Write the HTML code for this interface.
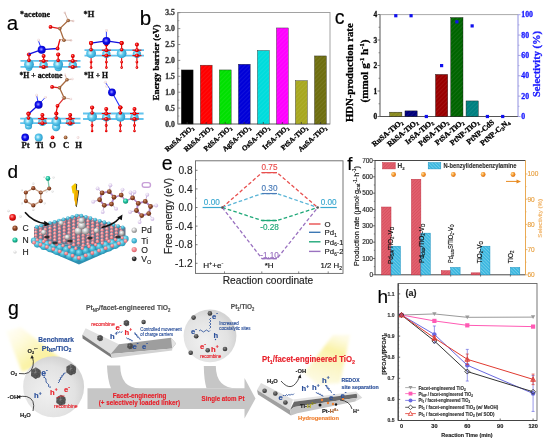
<!DOCTYPE html>
<html><head><meta charset="utf-8"><title>Figure</title>
<style>html,body{margin:0;padding:0;background:#fff;}svg{display:block;}</style></head>
<body><svg width="550" height="445" viewBox="0 0 550 445">
<defs><pattern id="hb" width="3" height="3" patternUnits="userSpaceOnUse" patternTransform="rotate(45)"><rect width="3" height="3" fill="none"/><line x1="0" y1="0" x2="0" y2="3" stroke="rgba(255,255,255,0.13)" stroke-width="1"/></pattern><clipPath id="clipE"><rect x="195" y="160" width="148" height="114"/></clipPath><pattern id="hr" width="2.2" height="2.2" patternUnits="userSpaceOnUse" patternTransform="rotate(45)"><rect width="2.2" height="2.2" fill="#e2606e"/><line x1="0" y1="0" x2="0" y2="2.2" stroke="#c84050" stroke-width="0.7"/></pattern><pattern id="hbl" width="2.4" height="2.4" patternUnits="userSpaceOnUse" patternTransform="rotate(-45)"><rect width="2.4" height="2.4" fill="#3cb8e0"/><line x1="0" y1="0" x2="0" y2="2.4" stroke="#a8e0f4" stroke-width="0.8"/></pattern><radialGradient id="og" cx="0.35" cy="0.35" r="0.7"><stop offset="0" stop-color="#ffe0a0"/><stop offset="0.5" stop-color="#f59a30"/><stop offset="1" stop-color="#d86a10"/></radialGradient><radialGradient id="gTi" cx="0.4" cy="0.45" r="0.6"><stop offset="0" stop-color="#e8fbff"/><stop offset="0.45" stop-color="#5cc8ec"/><stop offset="1" stop-color="#2a9ccc"/></radialGradient><radialGradient id="gO" cx="0.4" cy="0.4" r="0.6"><stop offset="0" stop-color="#ff9090"/><stop offset="0.5" stop-color="#f00000"/><stop offset="1" stop-color="#c00000"/></radialGradient><radialGradient id="gPt" cx="0.45" cy="0.45" r="0.6"><stop offset="0" stop-color="#a0a0ff"/><stop offset="0.45" stop-color="#1010f0"/><stop offset="1" stop-color="#0000b0"/></radialGradient><radialGradient id="gC" cx="0.4" cy="0.4" r="0.6"><stop offset="0" stop-color="#e0b090"/><stop offset="0.5" stop-color="#a86a40"/><stop offset="1" stop-color="#7a4a28"/></radialGradient><radialGradient id="gH" cx="0.4" cy="0.4" r="0.6"><stop offset="0" stop-color="#ffffff"/><stop offset="1" stop-color="#e8c8c8"/></radialGradient><radialGradient id="gPd" cx="0.4" cy="0.35" r="0.65"><stop offset="0" stop-color="#ffffff"/><stop offset="0.5" stop-color="#c8c8c8"/><stop offset="1" stop-color="#808080"/></radialGradient><radialGradient id="gTi2" cx="0.4" cy="0.35" r="0.65"><stop offset="0" stop-color="#a0e4f4"/><stop offset="0.5" stop-color="#4cbcd8"/><stop offset="1" stop-color="#2a98b8"/></radialGradient><radialGradient id="gO2" cx="0.4" cy="0.35" r="0.65"><stop offset="0" stop-color="#ffc8c8"/><stop offset="0.6" stop-color="#f08088"/><stop offset="1" stop-color="#d86068"/></radialGradient><radialGradient id="gN" cx="0.4" cy="0.35" r="0.65"><stop offset="0" stop-color="#a0ffe0"/><stop offset="0.5" stop-color="#20c0a0"/><stop offset="1" stop-color="#109070"/></radialGradient><radialGradient id="gC2" cx="0.4" cy="0.35" r="0.65"><stop offset="0" stop-color="#d09070"/><stop offset="0.5" stop-color="#904828"/><stop offset="1" stop-color="#602810"/></radialGradient><radialGradient id="gHp" cx="0.4" cy="0.35" r="0.65"><stop offset="0" stop-color="#ffffff"/><stop offset="1" stop-color="#c8b0e0"/></radialGradient><radialGradient id="gHw" cx="0.4" cy="0.35" r="0.65"><stop offset="0" stop-color="#ffffff"/><stop offset="1" stop-color="#c8c8c8"/></radialGradient><radialGradient id="gV" cx="0.4" cy="0.35" r="0.65"><stop offset="0" stop-color="#aaaaaa"/><stop offset="0.5" stop-color="#333333"/><stop offset="1" stop-color="#111111"/></radialGradient><radialGradient id="gOw" cx="0.4" cy="0.35" r="0.65"><stop offset="0" stop-color="#ffa0a0"/><stop offset="0.5" stop-color="#f01818"/><stop offset="1" stop-color="#b00000"/></radialGradient><radialGradient id="gSph" cx="0.4" cy="0.6" r="0.6"><stop offset="0" stop-color="#f0f0f0"/><stop offset="0.75" stop-color="#e2e2e2"/><stop offset="1" stop-color="#d4d4d4"/></radialGradient><linearGradient id="gBeam1" x1="0" y1="0" x2="1" y2="1"><stop offset="0" stop-color="#fffbe0" stop-opacity="0.2"/><stop offset="0.6" stop-color="#fbf3a8"/><stop offset="1" stop-color="#f8ee90"/></linearGradient><linearGradient id="gBeam2" x1="0.7" y1="0" x2="0.4" y2="1"><stop offset="0" stop-color="#fcf6c0" stop-opacity="0.4"/><stop offset="0.3" stop-color="#faf2a8"/><stop offset="1" stop-color="#fcf8d8" stop-opacity="0.7"/></linearGradient><radialGradient id="gNP" cx="0.4" cy="0.35" r="0.7"><stop offset="0" stop-color="#8a8a8a"/><stop offset="1" stop-color="#484848"/></radialGradient><radialGradient id="gDot" cx="0.4" cy="0.35" r="0.7"><stop offset="0" stop-color="#888"/><stop offset="1" stop-color="#222"/></radialGradient><filter id="bl2" x="-0.3" y="-0.3" width="1.6" height="1.6"><feGaussianBlur stdDeviation="2.2"/></filter><filter id="bl1" x="-0.3" y="-0.3" width="1.6" height="1.6"><feGaussianBlur stdDeviation="1.5"/></filter></defs>
<rect width="550" height="445" fill="#fff"/>
<text x="6.8" y="29.5" font-family="'Liberation Sans',sans-serif" font-size="20.5" font-weight="normal" fill="#000" text-anchor="start"  stroke="#000" stroke-width="0.15">a</text>
<text x="139.8" y="24.5" font-family="'Liberation Sans',sans-serif" font-size="20.5" font-weight="normal" fill="#000" text-anchor="start"  stroke="#000" stroke-width="0.15">b</text>
<text x="334.8" y="24" font-family="'Liberation Sans',sans-serif" font-size="19.5" font-weight="normal" fill="#000" text-anchor="start"  stroke="#000" stroke-width="0.15">c</text>
<text x="7.6" y="178" font-family="'Liberation Sans',sans-serif" font-size="19" font-weight="normal" fill="#000" text-anchor="start"  stroke="#000" stroke-width="0.15">d</text>
<text x="161.8" y="169.8" font-family="'Liberation Sans',sans-serif" font-size="19.5" font-weight="normal" fill="#000" text-anchor="start"  stroke="#000" stroke-width="0.15">e</text>
<text x="347.2" y="170.4" font-family="'Liberation Sans',sans-serif" font-size="18.5" font-weight="normal" fill="#000" text-anchor="start"  stroke="#000" stroke-width="0.15">f</text>
<text x="8" y="315.2" font-family="'Liberation Sans',sans-serif" font-size="19.5" font-weight="normal" fill="#000" text-anchor="start"  stroke="#000" stroke-width="0.15">g</text>
<text x="377.5" y="302.5" font-family="'Liberation Sans',sans-serif" font-size="19" font-weight="normal" fill="#000" text-anchor="start"  stroke="#000" stroke-width="0.15">h</text>
<rect x="177.8" y="12.5" width="152.2" height="111.5" fill="none" stroke="#999" stroke-width="0.9"/>
<line x1="177.8" y1="12.5" x2="177.8" y2="124" stroke="#888" stroke-width="1.2" />
<line x1="177.8" y1="124" x2="330" y2="124" stroke="#888" stroke-width="1.2" />
<line x1="177.8" y1="124" x2="180.3" y2="124" stroke="#777" stroke-width="0.8" />
<line x1="177.8" y1="116.05" x2="179.3" y2="116.05" stroke="#777" stroke-width="0.6" />
<text x="174.8" y="126.5" font-family="'Liberation Serif',serif" font-size="7.7" font-weight="bold" fill="#333" text-anchor="end"  stroke="#333" stroke-width="0.3">0.0</text>
<line x1="177.8" y1="108.1" x2="180.3" y2="108.1" stroke="#777" stroke-width="0.8" />
<line x1="177.8" y1="100.15" x2="179.3" y2="100.15" stroke="#777" stroke-width="0.6" />
<text x="174.8" y="110.6" font-family="'Liberation Serif',serif" font-size="7.7" font-weight="bold" fill="#333" text-anchor="end"  stroke="#333" stroke-width="0.3">0.5</text>
<line x1="177.8" y1="92.2" x2="180.3" y2="92.2" stroke="#777" stroke-width="0.8" />
<line x1="177.8" y1="84.25" x2="179.3" y2="84.25" stroke="#777" stroke-width="0.6" />
<text x="174.8" y="94.7" font-family="'Liberation Serif',serif" font-size="7.7" font-weight="bold" fill="#333" text-anchor="end"  stroke="#333" stroke-width="0.3">1.0</text>
<line x1="177.8" y1="76.3" x2="180.3" y2="76.3" stroke="#777" stroke-width="0.8" />
<line x1="177.8" y1="68.35" x2="179.3" y2="68.35" stroke="#777" stroke-width="0.6" />
<text x="174.8" y="78.8" font-family="'Liberation Serif',serif" font-size="7.7" font-weight="bold" fill="#333" text-anchor="end"  stroke="#333" stroke-width="0.3">1.5</text>
<line x1="177.8" y1="60.4" x2="180.3" y2="60.4" stroke="#777" stroke-width="0.8" />
<line x1="177.8" y1="52.45" x2="179.3" y2="52.45" stroke="#777" stroke-width="0.6" />
<text x="174.8" y="62.9" font-family="'Liberation Serif',serif" font-size="7.7" font-weight="bold" fill="#333" text-anchor="end"  stroke="#333" stroke-width="0.3">2.0</text>
<line x1="177.8" y1="44.5" x2="180.3" y2="44.5" stroke="#777" stroke-width="0.8" />
<line x1="177.8" y1="36.55" x2="179.3" y2="36.55" stroke="#777" stroke-width="0.6" />
<text x="174.8" y="47" font-family="'Liberation Serif',serif" font-size="7.7" font-weight="bold" fill="#333" text-anchor="end"  stroke="#333" stroke-width="0.3">2.5</text>
<line x1="177.8" y1="28.6" x2="180.3" y2="28.6" stroke="#777" stroke-width="0.8" />
<line x1="177.8" y1="20.65" x2="179.3" y2="20.65" stroke="#777" stroke-width="0.6" />
<text x="174.8" y="31.1" font-family="'Liberation Serif',serif" font-size="7.7" font-weight="bold" fill="#333" text-anchor="end"  stroke="#333" stroke-width="0.3">3.0</text>
<line x1="177.8" y1="12.7" x2="180.3" y2="12.7" stroke="#777" stroke-width="0.8" />
<text x="174.8" y="15.2" font-family="'Liberation Serif',serif" font-size="7.7" font-weight="bold" fill="#333" text-anchor="end"  stroke="#333" stroke-width="0.3">3.5</text>
<rect x="181.3" y="69.94" width="11.8" height="54.06" fill="#000000" stroke="#222" stroke-width="0.4"/>
<line x1="187.2" y1="124" x2="187.2" y2="122" stroke="#333" stroke-width="0.7" />
<text transform="translate(193.8,128.5) rotate(-42)" font-family="'Liberation Serif',serif" font-size="7.2" font-weight="bold" text-anchor="end" stroke="#000" stroke-width="0.3">RuSA-TiO<tspan font-size="4.5" dy="1.5">2</tspan></text>
<rect x="200.33" y="65.17" width="11.8" height="58.83" fill="#ff0000" stroke="#222" stroke-width="0.4"/>
<rect x="200.33" y="65.17" width="11.8" height="58.83" fill="url(#hb)" />
<line x1="206.23" y1="124" x2="206.23" y2="122" stroke="#333" stroke-width="0.7" />
<text transform="translate(212.83,128.5) rotate(-42)" font-family="'Liberation Serif',serif" font-size="7.2" font-weight="bold" text-anchor="end" stroke="#000" stroke-width="0.3">RhSA-TiO<tspan font-size="4.5" dy="1.5">2</tspan></text>
<rect x="219.36" y="69.94" width="11.8" height="54.06" fill="#00e000" stroke="#222" stroke-width="0.4"/>
<rect x="219.36" y="69.94" width="11.8" height="54.06" fill="url(#hb)" />
<line x1="225.26" y1="124" x2="225.26" y2="122" stroke="#333" stroke-width="0.7" />
<text transform="translate(231.86,128.5) rotate(-42)" font-family="'Liberation Serif',serif" font-size="7.2" font-weight="bold" text-anchor="end" stroke="#000" stroke-width="0.3">PdSA-TiO<tspan font-size="4.5" dy="1.5">2</tspan></text>
<rect x="238.39" y="64.22" width="11.8" height="59.78" fill="#0000d8" stroke="#222" stroke-width="0.4"/>
<rect x="238.39" y="64.22" width="11.8" height="59.78" fill="url(#hb)" />
<line x1="244.29" y1="124" x2="244.29" y2="122" stroke="#333" stroke-width="0.7" />
<text transform="translate(250.89,128.5) rotate(-42)" font-family="'Liberation Serif',serif" font-size="7.2" font-weight="bold" text-anchor="end" stroke="#000" stroke-width="0.3">AgSA-TiO<tspan font-size="4.5" dy="1.5">2</tspan></text>
<rect x="257.42" y="50.54" width="11.8" height="73.46" fill="#00dcdc" stroke="#222" stroke-width="0.4"/>
<rect x="257.42" y="50.54" width="11.8" height="73.46" fill="url(#hb)" />
<line x1="263.32" y1="124" x2="263.32" y2="122" stroke="#333" stroke-width="0.7" />
<text transform="translate(269.92,128.5) rotate(-42)" font-family="'Liberation Serif',serif" font-size="7.2" font-weight="bold" text-anchor="end" stroke="#000" stroke-width="0.3">OsSA-TiO<tspan font-size="4.5" dy="1.5">2</tspan></text>
<rect x="276.45" y="27.96" width="11.8" height="96.04" fill="#ff00ff" stroke="#222" stroke-width="0.4"/>
<rect x="276.45" y="27.96" width="11.8" height="96.04" fill="url(#hb)" />
<line x1="282.35" y1="124" x2="282.35" y2="122" stroke="#333" stroke-width="0.7" />
<text transform="translate(288.95,128.5) rotate(-42)" font-family="'Liberation Serif',serif" font-size="7.2" font-weight="bold" text-anchor="end" stroke="#000" stroke-width="0.3">IrSA-TiO<tspan font-size="4.5" dy="1.5">2</tspan></text>
<rect x="295.48" y="80.75" width="11.8" height="43.25" fill="#a8a820" stroke="#222" stroke-width="0.4"/>
<rect x="295.48" y="80.75" width="11.8" height="43.25" fill="url(#hb)" />
<line x1="301.38" y1="124" x2="301.38" y2="122" stroke="#333" stroke-width="0.7" />
<text transform="translate(307.98,128.5) rotate(-42)" font-family="'Liberation Serif',serif" font-size="7.2" font-weight="bold" text-anchor="end" stroke="#000" stroke-width="0.3">PtSA-TiO<tspan font-size="4.5" dy="1.5">2</tspan></text>
<rect x="314.51" y="55.95" width="11.8" height="68.05" fill="#6e6e10" stroke="#222" stroke-width="0.4"/>
<rect x="314.51" y="55.95" width="11.8" height="68.05" fill="url(#hb)" />
<line x1="320.41" y1="124" x2="320.41" y2="122" stroke="#333" stroke-width="0.7" />
<text transform="translate(327.01,128.5) rotate(-42)" font-family="'Liberation Serif',serif" font-size="7.2" font-weight="bold" text-anchor="end" stroke="#000" stroke-width="0.3">AuSA-TiO<tspan font-size="4.5" dy="1.5">2</tspan></text>
<text transform="translate(158.7,62.5) rotate(-90)" font-family="'Liberation Serif',serif" font-size="8.7" font-weight="bold" text-anchor="middle" textLength="76" lengthAdjust="spacingAndGlyphs" stroke="#000" stroke-width="0.3">Energy barrier (eV)</text>
<line x1="380" y1="14.6" x2="518" y2="14.6" stroke="#aaa" stroke-width="1" />
<line x1="380" y1="14.6" x2="380" y2="116.5" stroke="#555" stroke-width="1" />
<line x1="380" y1="116.5" x2="518" y2="116.5" stroke="#555" stroke-width="1" />
<line x1="518" y1="14.6" x2="518" y2="116.5" stroke="#9090e0" stroke-width="1" />
<line x1="377.5" y1="116.5" x2="380" y2="116.5" stroke="#555" stroke-width="0.8" />
<text x="377.3" y="119.1" font-family="'Liberation Serif',serif" font-size="7.4" font-weight="bold" fill="#111" text-anchor="end"  stroke="#111" stroke-width="0.3">0</text>
<line x1="378.5" y1="103.75" x2="380" y2="103.75" stroke="#555" stroke-width="0.6" />
<line x1="377.5" y1="91" x2="380" y2="91" stroke="#555" stroke-width="0.8" />
<text x="377.3" y="93.6" font-family="'Liberation Serif',serif" font-size="7.4" font-weight="bold" fill="#111" text-anchor="end"  stroke="#111" stroke-width="0.3">1</text>
<line x1="378.5" y1="78.25" x2="380" y2="78.25" stroke="#555" stroke-width="0.6" />
<line x1="377.5" y1="65.5" x2="380" y2="65.5" stroke="#555" stroke-width="0.8" />
<text x="377.3" y="68.1" font-family="'Liberation Serif',serif" font-size="7.4" font-weight="bold" fill="#111" text-anchor="end"  stroke="#111" stroke-width="0.3">2</text>
<line x1="378.5" y1="52.75" x2="380" y2="52.75" stroke="#555" stroke-width="0.6" />
<line x1="377.5" y1="40" x2="380" y2="40" stroke="#555" stroke-width="0.8" />
<text x="377.3" y="42.6" font-family="'Liberation Serif',serif" font-size="7.4" font-weight="bold" fill="#111" text-anchor="end"  stroke="#111" stroke-width="0.3">3</text>
<line x1="378.5" y1="27.25" x2="380" y2="27.25" stroke="#555" stroke-width="0.6" />
<line x1="377.5" y1="14.5" x2="380" y2="14.5" stroke="#555" stroke-width="0.8" />
<text x="377.3" y="17.1" font-family="'Liberation Serif',serif" font-size="7.4" font-weight="bold" fill="#111" text-anchor="end"  stroke="#111" stroke-width="0.3">4</text>
<line x1="518" y1="116.5" x2="520.5" y2="116.5" stroke="#9090e0" stroke-width="0.8" />
<text x="521.3" y="119.2" font-family="'Liberation Serif',serif" font-size="7.8" font-weight="bold" fill="#1a1aff" text-anchor="start"  stroke="#1a1aff" stroke-width="0.3">0</text>
<line x1="518" y1="106.32" x2="519.5" y2="106.32" stroke="#9090e0" stroke-width="0.6" />
<line x1="518" y1="96.14" x2="520.5" y2="96.14" stroke="#9090e0" stroke-width="0.8" />
<text x="521.3" y="98.84" font-family="'Liberation Serif',serif" font-size="7.8" font-weight="bold" fill="#1a1aff" text-anchor="start"  stroke="#1a1aff" stroke-width="0.3">20</text>
<line x1="518" y1="85.96" x2="519.5" y2="85.96" stroke="#9090e0" stroke-width="0.6" />
<line x1="518" y1="75.78" x2="520.5" y2="75.78" stroke="#9090e0" stroke-width="0.8" />
<text x="521.3" y="78.48" font-family="'Liberation Serif',serif" font-size="7.8" font-weight="bold" fill="#1a1aff" text-anchor="start"  stroke="#1a1aff" stroke-width="0.3">40</text>
<line x1="518" y1="65.6" x2="519.5" y2="65.6" stroke="#9090e0" stroke-width="0.6" />
<line x1="518" y1="55.42" x2="520.5" y2="55.42" stroke="#9090e0" stroke-width="0.8" />
<text x="521.3" y="58.12" font-family="'Liberation Serif',serif" font-size="7.8" font-weight="bold" fill="#1a1aff" text-anchor="start"  stroke="#1a1aff" stroke-width="0.3">60</text>
<line x1="518" y1="45.24" x2="519.5" y2="45.24" stroke="#9090e0" stroke-width="0.6" />
<line x1="518" y1="35.06" x2="520.5" y2="35.06" stroke="#9090e0" stroke-width="0.8" />
<text x="521.3" y="37.76" font-family="'Liberation Serif',serif" font-size="7.8" font-weight="bold" fill="#1a1aff" text-anchor="start"  stroke="#1a1aff" stroke-width="0.3">80</text>
<line x1="518" y1="24.88" x2="519.5" y2="24.88" stroke="#9090e0" stroke-width="0.6" />
<line x1="518" y1="14.7" x2="520.5" y2="14.7" stroke="#9090e0" stroke-width="0.8" />
<text x="521.3" y="17.4" font-family="'Liberation Serif',serif" font-size="7.8" font-weight="bold" fill="#1a1aff" text-anchor="start"  stroke="#1a1aff" stroke-width="0.3">100</text>
<rect x="389.7" y="112.17" width="12.2" height="4.33" fill="#8b8b1e" stroke="#111" stroke-width="0.4"/>
<rect x="389.7" y="112.17" width="12.2" height="4.33" fill="url(#hb)" />
<rect x="394.2" y="14.12" width="3.2" height="3.2" fill="#1010ee" />
<text transform="translate(403.2,123) rotate(-40)" font-family="'Liberation Serif',serif" font-size="7.6" font-weight="bold" text-anchor="end" stroke="#000" stroke-width="0.3">RuSA-TiO<tspan font-size="5" dy="1.5">2</tspan></text>
<rect x="404.97" y="110.89" width="12.2" height="5.61" fill="#00007a" stroke="#111" stroke-width="0.4"/>
<rect x="404.97" y="110.89" width="12.2" height="5.61" fill="url(#hb)" />
<rect x="409.47" y="14.12" width="3.2" height="3.2" fill="#1010ee" />
<text transform="translate(418.47,123) rotate(-40)" font-family="'Liberation Serif',serif" font-size="7.6" font-weight="bold" text-anchor="end" stroke="#000" stroke-width="0.3">RhSA-TiO<tspan font-size="5" dy="1.5">2</tspan></text>
<rect x="424.74" y="114.9" width="3.2" height="3.2" fill="#1010ee" />
<text transform="translate(433.74,123) rotate(-40)" font-family="'Liberation Serif',serif" font-size="7.6" font-weight="bold" text-anchor="end" stroke="#000" stroke-width="0.3">IrSA-TiO<tspan font-size="5" dy="1.5">2</tspan></text>
<rect x="435.51" y="74.43" width="12.2" height="42.07" fill="#9a0000" stroke="#111" stroke-width="0.4"/>
<rect x="435.51" y="74.43" width="12.2" height="42.07" fill="url(#hb)" />
<rect x="440.01" y="64" width="3.2" height="3.2" fill="#1010ee" />
<text transform="translate(449.01,123) rotate(-40)" font-family="'Liberation Serif',serif" font-size="7.6" font-weight="bold" text-anchor="end" stroke="#000" stroke-width="0.3">PdSA-TiO<tspan font-size="5" dy="1.5">2</tspan></text>
<rect x="450.78" y="17.56" width="12.2" height="98.94" fill="#006400" stroke="#111" stroke-width="0.4"/>
<rect x="450.78" y="17.56" width="12.2" height="98.94" fill="url(#hb)" />
<rect x="455.28" y="20.23" width="3.2" height="3.2" fill="#1010ee" />
<text transform="translate(464.28,123) rotate(-40)" font-family="'Liberation Serif',serif" font-size="7.6" font-weight="bold" text-anchor="end" stroke="#000" stroke-width="0.3">PtSA-TiO<tspan font-size="5" dy="1.5">2</tspan></text>
<rect x="466.05" y="100.94" width="12.2" height="15.56" fill="#008080" stroke="#111" stroke-width="0.4"/>
<rect x="466.05" y="100.94" width="12.2" height="15.56" fill="url(#hb)" />
<rect x="470.55" y="24.3" width="3.2" height="3.2" fill="#1010ee" />
<text transform="translate(479.55,123) rotate(-40)" font-family="'Liberation Serif',serif" font-size="7.6" font-weight="bold" text-anchor="end" stroke="#000" stroke-width="0.3">PtNP-TiO<tspan font-size="5" dy="1.5">2</tspan></text>
<rect x="485.82" y="114.9" width="3.2" height="3.2" fill="#1010ee" />
<text transform="translate(494.82,123) rotate(-40)" font-family="'Liberation Serif',serif" font-size="7.6" font-weight="bold" text-anchor="end" stroke="#000" stroke-width="0.3">PtNP-CdS</text>
<rect x="501.09" y="114.9" width="3.2" height="3.2" fill="#1010ee" />
<text transform="translate(510.09,123) rotate(-40)" font-family="'Liberation Serif',serif" font-size="7.6" font-weight="bold" text-anchor="end" stroke="#000" stroke-width="0.3">PtNP-C<tspan font-size="5" dy="1.5">3</tspan><tspan dy="-1.5">N</tspan><tspan font-size="5" dy="1.5">4</tspan></text>
<text transform="translate(353,72.7) rotate(-90)" font-family="'Liberation Serif',serif" font-size="10.7" font-weight="bold" text-anchor="middle" textLength="98.7" lengthAdjust="spacingAndGlyphs" stroke="#000" stroke-width="0.3">HDN-production rate</text>
<text transform="translate(368.2,71) rotate(-90)" font-family="'Liberation Serif',serif" font-size="11" font-weight="bold" text-anchor="middle" textLength="63" lengthAdjust="spacingAndGlyphs" stroke="#000" stroke-width="0.3">(mmol g<tspan font-size="6.5" dy="-4">-1</tspan><tspan dy="4"> h</tspan><tspan font-size="6.5" dy="-4">-1</tspan><tspan dy="4">)</tspan></text>
<text transform="translate(539.8,64) rotate(-90)" font-family="'Liberation Serif',serif" font-size="11.4" font-weight="bold" fill="#1a1aff" text-anchor="middle" textLength="66" lengthAdjust="spacingAndGlyphs" stroke="#1a1aff" stroke-width="0.3">Selectivity (%)</text>
<rect x="195.5" y="160.8" width="147.5" height="112.59999999999997" fill="none" stroke="#666" stroke-width="0.9"/>
<line x1="195.5" y1="170.3" x2="197.5" y2="170.3" stroke="#555" stroke-width="0.8" />
<text x="192.6" y="173.9" font-family="'Liberation Sans',sans-serif" font-size="10.2" font-weight="normal" fill="#222" text-anchor="end"  stroke="#222" stroke-width="0.15">0.8</text>
<line x1="195.5" y1="188.9" x2="197.5" y2="188.9" stroke="#555" stroke-width="0.8" />
<text x="192.6" y="192.5" font-family="'Liberation Sans',sans-serif" font-size="10.2" font-weight="normal" fill="#222" text-anchor="end"  stroke="#222" stroke-width="0.15">0.4</text>
<line x1="195.5" y1="207.5" x2="197.5" y2="207.5" stroke="#555" stroke-width="0.8" />
<text x="192.6" y="211.1" font-family="'Liberation Sans',sans-serif" font-size="10.2" font-weight="normal" fill="#222" text-anchor="end"  stroke="#222" stroke-width="0.15">0.0</text>
<line x1="195.5" y1="226.1" x2="197.5" y2="226.1" stroke="#555" stroke-width="0.8" />
<text x="192.6" y="229.7" font-family="'Liberation Sans',sans-serif" font-size="10.2" font-weight="normal" fill="#222" text-anchor="end"  stroke="#222" stroke-width="0.15">-0.4</text>
<line x1="195.5" y1="244.7" x2="197.5" y2="244.7" stroke="#555" stroke-width="0.8" />
<text x="192.6" y="248.3" font-family="'Liberation Sans',sans-serif" font-size="10.2" font-weight="normal" fill="#222" text-anchor="end"  stroke="#222" stroke-width="0.15">-0.8</text>
<line x1="195.5" y1="263.3" x2="197.5" y2="263.3" stroke="#555" stroke-width="0.8" />
<text x="192.6" y="266.9" font-family="'Liberation Sans',sans-serif" font-size="10.2" font-weight="normal" fill="#222" text-anchor="end"  stroke="#222" stroke-width="0.15">-1.2</text>
<line x1="195.5" y1="179.6" x2="196.7" y2="179.6" stroke="#555" stroke-width="0.6" />
<line x1="195.5" y1="198.2" x2="196.7" y2="198.2" stroke="#555" stroke-width="0.6" />
<line x1="195.5" y1="216.8" x2="196.7" y2="216.8" stroke="#555" stroke-width="0.6" />
<line x1="195.5" y1="235.4" x2="196.7" y2="235.4" stroke="#555" stroke-width="0.6" />
<line x1="195.5" y1="254" x2="196.7" y2="254" stroke="#555" stroke-width="0.6" />
<line x1="224.5" y1="273.4" x2="224.5" y2="271.4" stroke="#555" stroke-width="0.7" />
<line x1="261.8" y1="273.4" x2="261.8" y2="271.4" stroke="#555" stroke-width="0.7" />
<line x1="298.7" y1="273.4" x2="298.7" y2="271.4" stroke="#555" stroke-width="0.7" />
<line x1="328.2" y1="273.4" x2="328.2" y2="271.4" stroke="#555" stroke-width="0.7" />
<text transform="translate(172.4,216) rotate(-90)" font-family="'Liberation Sans',sans-serif" font-size="10" fill="#222" text-anchor="middle" textLength="76" lengthAdjust="spacingAndGlyphs" stroke="#222" stroke-width="0.15">Free energy (eV)</text>
<text x="268" y="284" font-family="'Liberation Sans',sans-serif" font-size="10.4" font-weight="normal" fill="#222" text-anchor="middle" textLength="90.5" lengthAdjust="spacingAndGlyphs" stroke="#222" stroke-width="0.15">Reaction coordinate</text>
<polyline points="222.3,207.5 262,172.62 277,172.62 317.7,207.5" fill="none" stroke="#e8504f" stroke-width="1.3" stroke-dasharray="3.6,2.2"/>
<line x1="262" y1="172.62" x2="277" y2="172.62" stroke="#e8504f" stroke-width="1.2" />
<text x="269.5" y="170.43" font-family="'Liberation Sans',sans-serif" font-size="8.2" font-weight="normal" fill="#e8504f" text-anchor="middle"  stroke="#e8504f" stroke-width="0.15">0.75</text>
<polyline points="222.3,207.5 262,193.55 277,193.55 317.7,207.5" fill="none" stroke="#5ab4d6" stroke-width="1.3" stroke-dasharray="3.6,2.2"/>
<line x1="262" y1="193.55" x2="277" y2="193.55" stroke="#4a7cb8" stroke-width="1.2" />
<text x="269.5" y="191.35" font-family="'Liberation Sans',sans-serif" font-size="8.2" font-weight="normal" fill="#4a7cb8" text-anchor="middle"  stroke="#4a7cb8" stroke-width="0.15">0.30</text>
<polyline points="222.3,207.5 262,220.52 277,220.52 317.7,207.5" fill="none" stroke="#1fa878" stroke-width="1.3" stroke-dasharray="3.6,2.2"/>
<line x1="262" y1="220.52" x2="277" y2="220.52" stroke="#1fa878" stroke-width="1.2" />
<text x="269.5" y="229.52" font-family="'Liberation Sans',sans-serif" font-size="8.2" font-weight="normal" fill="#1fa878" text-anchor="middle"  stroke="#1fa878" stroke-width="0.15">-0.28</text>
<polyline points="222.3,207.5 262,258.65 277,258.65 317.7,207.5" fill="none" stroke="#9a72c0" stroke-width="1.3" stroke-dasharray="3.6,2.2"/>
<line x1="262" y1="258.65" x2="277" y2="258.65" stroke="#9a72c0" stroke-width="1.2" />
<text x="269.5" y="257.85" font-family="'Liberation Sans',sans-serif" font-size="8.2" font-weight="normal" fill="#9a72c0" text-anchor="middle"  stroke="#9a72c0" stroke-width="0.15">-1.10</text>
<line x1="202.6" y1="207.5" x2="221" y2="207.5" stroke="#3aa8d0" stroke-width="1.2" />
<text x="211.8" y="205.3" font-family="'Liberation Sans',sans-serif" font-size="8.2" font-weight="normal" fill="#3aa8d0" text-anchor="middle"  stroke="#3aa8d0" stroke-width="0.15">0.00</text>
<line x1="320.4" y1="207.5" x2="336.8" y2="207.5" stroke="#3aa8d0" stroke-width="1.2" />
<text x="328.6" y="205.3" font-family="'Liberation Sans',sans-serif" font-size="8.2" font-weight="normal" fill="#3aa8d0" text-anchor="middle"  stroke="#3aa8d0" stroke-width="0.15">0.00</text>
<circle cx="222.3" cy="207.5" r="1.3" fill="#555" />
<circle cx="317.7" cy="207.5" r="1.3" fill="#555" />
<g clip-path="url(#clipE)">
<line x1="309" y1="224" x2="320.5" y2="224" stroke="#e8504f" stroke-width="1.4" />
<text x="324.6" y="226.8" font-family="'Liberation Sans',sans-serif" font-size="7.8" font-weight="normal" fill="#222" text-anchor="start"  stroke="#222" stroke-width="0.15">O</text>
<line x1="309" y1="232.3" x2="320.5" y2="232.3" stroke="#3c78b4" stroke-width="1.4" />
<text x="324.6" y="235.1" font-family="'Liberation Sans',sans-serif" font-size="7.8" fill="#222" stroke="#222" stroke-width="0.15">Pd<tspan font-size="4.8" dy="1.5">1</tspan></text>
<line x1="309" y1="241.8" x2="320.5" y2="241.8" stroke="#1fa878" stroke-width="1.4" />
<text x="324.6" y="244.6" font-family="'Liberation Sans',sans-serif" font-size="7.8" fill="#222" stroke="#222" stroke-width="0.15">Pd<tspan font-size="4.8" dy="1.5">6</tspan><tspan dy="-1.5" font-size="7.5">-1</tspan></text>
<line x1="309" y1="251.4" x2="320.5" y2="251.4" stroke="#9a72c0" stroke-width="1.4" />
<text x="324.6" y="254.2" font-family="'Liberation Sans',sans-serif" font-size="7.8" fill="#222" stroke="#222" stroke-width="0.15">Pd<tspan font-size="4.8" dy="1.5">6</tspan><tspan dy="-1.5" font-size="7.5">-2</tspan></text>
</g>
<text x="203.2" y="268.3" font-family="'Liberation Sans',sans-serif" font-size="8.1" fill="#111" stroke="#111" stroke-width="0.15">H<tspan font-size="5.5" dy="-3">+</tspan><tspan dy="3">+e</tspan><tspan font-size="5.5" dy="-3">-</tspan></text>
<text x="269.2" y="268.3" font-family="'Liberation Sans',sans-serif" font-size="8.1" font-weight="normal" fill="#111" text-anchor="middle"  stroke="#111" stroke-width="0.15">*H</text>
<text x="320.5" y="268.3" font-family="'Liberation Sans',sans-serif" font-size="7.8" fill="#111" stroke="#111" stroke-width="0.15">1/2 H<tspan font-size="5" dy="1.5">2</tspan></text>
<line x1="375" y1="160.5" x2="525.5" y2="160.5" stroke="#333" stroke-width="0.9" />
<line x1="375" y1="160.5" x2="375" y2="274.8" stroke="#333" stroke-width="0.9" />
<line x1="375" y1="274.8" x2="525.5" y2="274.8" stroke="#333" stroke-width="0.9" />
<line x1="525.5" y1="160.5" x2="525.5" y2="274.8" stroke="#e8a040" stroke-width="0.9" />
<line x1="373" y1="274.8" x2="375" y2="274.8" stroke="#333" stroke-width="0.7" />
<text x="373" y="277.1" font-family="'Liberation Sans',sans-serif" font-size="6.5" font-weight="normal" fill="#222" text-anchor="end"  stroke="#222" stroke-width="0.15">0</text>
<line x1="373.8" y1="266.63" x2="375" y2="266.63" stroke="#333" stroke-width="0.5" />
<line x1="373" y1="258.47" x2="375" y2="258.47" stroke="#333" stroke-width="0.7" />
<text x="373" y="260.77" font-family="'Liberation Sans',sans-serif" font-size="6.5" font-weight="normal" fill="#222" text-anchor="end"  stroke="#222" stroke-width="0.15">100</text>
<line x1="373.8" y1="250.31" x2="375" y2="250.31" stroke="#333" stroke-width="0.5" />
<line x1="373" y1="242.14" x2="375" y2="242.14" stroke="#333" stroke-width="0.7" />
<text x="373" y="244.44" font-family="'Liberation Sans',sans-serif" font-size="6.5" font-weight="normal" fill="#222" text-anchor="end"  stroke="#222" stroke-width="0.15">200</text>
<line x1="373.8" y1="233.98" x2="375" y2="233.98" stroke="#333" stroke-width="0.5" />
<line x1="373" y1="225.81" x2="375" y2="225.81" stroke="#333" stroke-width="0.7" />
<text x="373" y="228.11" font-family="'Liberation Sans',sans-serif" font-size="6.5" font-weight="normal" fill="#222" text-anchor="end"  stroke="#222" stroke-width="0.15">300</text>
<line x1="373.8" y1="217.65" x2="375" y2="217.65" stroke="#333" stroke-width="0.5" />
<line x1="373" y1="209.48" x2="375" y2="209.48" stroke="#333" stroke-width="0.7" />
<text x="373" y="211.78" font-family="'Liberation Sans',sans-serif" font-size="6.5" font-weight="normal" fill="#222" text-anchor="end"  stroke="#222" stroke-width="0.15">400</text>
<line x1="373.8" y1="201.31" x2="375" y2="201.31" stroke="#333" stroke-width="0.5" />
<line x1="373" y1="193.15" x2="375" y2="193.15" stroke="#333" stroke-width="0.7" />
<text x="373" y="195.45" font-family="'Liberation Sans',sans-serif" font-size="6.5" font-weight="normal" fill="#222" text-anchor="end"  stroke="#222" stroke-width="0.15">500</text>
<line x1="373.8" y1="184.99" x2="375" y2="184.99" stroke="#333" stroke-width="0.5" />
<line x1="373" y1="176.82" x2="375" y2="176.82" stroke="#333" stroke-width="0.7" />
<text x="373" y="179.12" font-family="'Liberation Sans',sans-serif" font-size="6.5" font-weight="normal" fill="#222" text-anchor="end"  stroke="#222" stroke-width="0.15">600</text>
<line x1="373.8" y1="168.66" x2="375" y2="168.66" stroke="#333" stroke-width="0.5" />
<line x1="373" y1="160.49" x2="375" y2="160.49" stroke="#333" stroke-width="0.7" />
<text x="373" y="162.79" font-family="'Liberation Sans',sans-serif" font-size="6.5" font-weight="normal" fill="#222" text-anchor="end"  stroke="#222" stroke-width="0.15">700</text>
<line x1="525.5" y1="274.8" x2="527.5" y2="274.8" stroke="#e8a040" stroke-width="0.7" />
<text x="527.5" y="277.1" font-family="'Liberation Sans',sans-serif" font-size="6.5" font-weight="normal" fill="#e8a040" text-anchor="start"  stroke="#e8a040" stroke-width="0.15">60</text>
<line x1="525.5" y1="262.2" x2="526.7" y2="262.2" stroke="#e8a040" stroke-width="0.5" />
<line x1="525.5" y1="249.6" x2="527.5" y2="249.6" stroke="#e8a040" stroke-width="0.7" />
<text x="527.5" y="251.9" font-family="'Liberation Sans',sans-serif" font-size="6.5" font-weight="normal" fill="#e8a040" text-anchor="start"  stroke="#e8a040" stroke-width="0.15">70</text>
<line x1="525.5" y1="237" x2="526.7" y2="237" stroke="#e8a040" stroke-width="0.5" />
<line x1="525.5" y1="224.4" x2="527.5" y2="224.4" stroke="#e8a040" stroke-width="0.7" />
<text x="527.5" y="226.7" font-family="'Liberation Sans',sans-serif" font-size="6.5" font-weight="normal" fill="#e8a040" text-anchor="start"  stroke="#e8a040" stroke-width="0.15">80</text>
<line x1="525.5" y1="211.8" x2="526.7" y2="211.8" stroke="#e8a040" stroke-width="0.5" />
<line x1="525.5" y1="199.2" x2="527.5" y2="199.2" stroke="#e8a040" stroke-width="0.7" />
<text x="527.5" y="201.5" font-family="'Liberation Sans',sans-serif" font-size="6.5" font-weight="normal" fill="#e8a040" text-anchor="start"  stroke="#e8a040" stroke-width="0.15">90</text>
<line x1="525.5" y1="186.6" x2="526.7" y2="186.6" stroke="#e8a040" stroke-width="0.5" />
<line x1="525.5" y1="174" x2="527.5" y2="174" stroke="#e8a040" stroke-width="0.7" />
<text x="527.5" y="176.3" font-family="'Liberation Sans',sans-serif" font-size="6.5" font-weight="normal" fill="#e8a040" text-anchor="start"  stroke="#e8a040" stroke-width="0.15">100</text>
<rect x="381.6" y="207.03" width="9.4" height="67.77" fill="url(#hr)" stroke="#c03040" stroke-width="0.5"/>
<rect x="391" y="246.22" width="9.4" height="28.58" fill="url(#hbl)" stroke="#1890c0" stroke-width="0.5"/>
<line x1="391" y1="274.8" x2="391" y2="276.6" stroke="#333" stroke-width="0.6" />
<circle cx="393.6" cy="174.5" r="2.4" fill="url(#og)"/>
<rect x="411.45" y="179.27" width="9.4" height="95.53" fill="url(#hr)" stroke="#c03040" stroke-width="0.5"/>
<rect x="420.85" y="233.16" width="9.4" height="41.64" fill="url(#hbl)" stroke="#1890c0" stroke-width="0.5"/>
<line x1="420.85" y1="274.8" x2="420.85" y2="276.6" stroke="#333" stroke-width="0.6" />
<circle cx="423.45" cy="174.5" r="2.4" fill="url(#og)"/>
<rect x="441.3" y="270.72" width="9.4" height="4.08" fill="url(#hr)" stroke="#c03040" stroke-width="0.5"/>
<rect x="450.7" y="267.45" width="9.4" height="7.35" fill="url(#hbl)" stroke="#1890c0" stroke-width="0.5"/>
<line x1="450.7" y1="274.8" x2="450.7" y2="276.6" stroke="#333" stroke-width="0.6" />
<circle cx="453.3" cy="174.5" r="2.4" fill="url(#og)"/>
<rect x="471.15" y="272.84" width="9.4" height="1.96" fill="url(#hr)" stroke="#c03040" stroke-width="0.5"/>
<rect x="480.55" y="246.22" width="9.4" height="28.58" fill="url(#hbl)" stroke="#1890c0" stroke-width="0.5"/>
<line x1="480.55" y1="274.8" x2="480.55" y2="276.6" stroke="#333" stroke-width="0.6" />
<circle cx="483.15" cy="174.5" r="2.4" fill="url(#og)"/>
<rect x="510.4" y="267.45" width="9.4" height="7.35" fill="url(#hbl)" stroke="#1890c0" stroke-width="0.5"/>
<line x1="510.4" y1="274.8" x2="510.4" y2="276.6" stroke="#333" stroke-width="0.6" />
<circle cx="513" cy="174.5" r="2.4" fill="url(#og)"/>
<text transform="translate(392.5,264) rotate(-90)" font-family="'Liberation Sans',sans-serif" font-size="6.8" fill="#111" textLength="37" lengthAdjust="spacingAndGlyphs" stroke="#111" stroke-width="0.15">Pd<tspan font-size="4.5" dy="1.2">SA</tspan><tspan dy="-1.2">/TiO</tspan><tspan font-size="4.5" dy="1.2">2</tspan><tspan dy="-1.2">-V</tspan><tspan font-size="4.5" dy="1.2">O</tspan></text>
<text transform="translate(423.6,263) rotate(-90)" font-family="'Liberation Sans',sans-serif" font-size="6.8" fill="#111" textLength="39.4" lengthAdjust="spacingAndGlyphs" stroke="#111" stroke-width="0.15">Pd<tspan font-size="4.5" dy="1.2">clus</tspan><tspan dy="-1.2">/TiO</tspan><tspan font-size="4.5" dy="1.2">2</tspan><tspan dy="-1.2">-V</tspan><tspan font-size="4.5" dy="1.2">O</tspan></text>
<text transform="translate(453,263) rotate(-90)" font-family="'Liberation Sans',sans-serif" font-size="6.8" fill="#111" textLength="38.6" lengthAdjust="spacingAndGlyphs" stroke="#111" stroke-width="0.15">Pd<tspan font-size="4.5" dy="1.2">surs</tspan><tspan dy="-1.2">S/TiO</tspan><tspan font-size="4.5" dy="1.2">2</tspan><tspan dy="-1.2">-V</tspan><tspan font-size="4.5" dy="1.2">O</tspan></text>
<text transform="translate(481.8,263.2) rotate(-90)" font-family="'Liberation Sans',sans-serif" font-size="6.8" fill="#111" textLength="21.9" lengthAdjust="spacingAndGlyphs" stroke="#111" stroke-width="0.15">TiO<tspan font-size="4.5" dy="1.2">2</tspan><tspan dy="-1.2">-V</tspan><tspan font-size="4.5" dy="1.2">O</tspan></text>
<text transform="translate(512.6,263.2) rotate(-90)" font-family="'Liberation Sans',sans-serif" font-size="6.8" fill="#111" textLength="12.6" lengthAdjust="spacingAndGlyphs" stroke="#111" stroke-width="0.15">TiO<tspan font-size="4.5" dy="1.2">2</tspan></text>
<rect x="382.6" y="162.6" width="12.6" height="6.3" fill="url(#hr)" stroke="#c03040" stroke-width="0.5"/>
<text x="397.5" y="168.3" font-family="'Liberation Sans',sans-serif" font-size="6.5" font-weight="bold" fill="#333" stroke="#333" stroke-width="0.15">H<tspan font-size="4.3" dy="1.2">2</tspan></text>
<rect x="428.2" y="162.6" width="12.6" height="6.3" fill="url(#hbl)" stroke="#1890c0" stroke-width="0.5"/>
<text x="443.5" y="168.3" font-family="'Liberation Sans',sans-serif" font-size="6.5" font-weight="bold" fill="#333" text-anchor="start" textLength="73" lengthAdjust="spacingAndGlyphs" stroke="#333" stroke-width="0.15">N-benzylidenebenzylamine</text>
<line x1="506" y1="181.4" x2="518" y2="181.4" stroke="#e88a20" stroke-width="1" />
<polygon points="521,181.4 516.5,179.4 516.5,183.4" fill="#e88a20"/>
<text transform="translate(359.2,266) rotate(-90)" font-family="'Liberation Sans',sans-serif" font-size="7.2" fill="#111" text-anchor="start" textLength="100" lengthAdjust="spacingAndGlyphs" stroke="#111" stroke-width="0.15">Production rate  (μmol·g<tspan font-size="4.8" dy="1.2">cat</tspan><tspan font-size="4.8" dy="-3.5">-1</tspan><tspan dy="2.3">·h</tspan><tspan font-size="4.8" dy="-3">-1</tspan><tspan dy="3">)</tspan></text>
<text transform="translate(541.5,218.3) rotate(-90)" font-family="'Liberation Sans',sans-serif" font-size="5.8" fill="#f0b060" text-anchor="middle" textLength="38.7" lengthAdjust="spacingAndGlyphs" stroke="#f0b060" stroke-width="0.15">Selectivity (%)</text>
<rect x="398.2" y="283.5" width="138.8" height="137.0" fill="none" stroke="#666" stroke-width="0.9"/>
<line x1="398.2" y1="283.5" x2="398.2" y2="420.5" stroke="#444" stroke-width="1.2" />
<line x1="398.2" y1="420.5" x2="537" y2="420.5" stroke="#444" stroke-width="1.2" />
<line x1="398.2" y1="420.5" x2="400.2" y2="420.5" stroke="#444" stroke-width="0.8" />
<text x="394.5" y="422.3" font-family="'Liberation Sans',sans-serif" font-size="5" font-weight="bold" fill="#333" text-anchor="end"  stroke="#333" stroke-width="0.15">0.5</text>
<line x1="398.2" y1="416.28" x2="399.2" y2="416.28" stroke="#444" stroke-width="0.5" />
<line x1="398.2" y1="412.06" x2="399.2" y2="412.06" stroke="#444" stroke-width="0.5" />
<line x1="398.2" y1="407.84" x2="399.2" y2="407.84" stroke="#444" stroke-width="0.5" />
<line x1="398.2" y1="403.62" x2="399.2" y2="403.62" stroke="#444" stroke-width="0.5" />
<line x1="398.2" y1="399.4" x2="400.2" y2="399.4" stroke="#444" stroke-width="0.8" />
<text x="394.5" y="401.2" font-family="'Liberation Sans',sans-serif" font-size="5" font-weight="bold" fill="#333" text-anchor="end"  stroke="#333" stroke-width="0.15">0.6</text>
<line x1="398.2" y1="395.18" x2="399.2" y2="395.18" stroke="#444" stroke-width="0.5" />
<line x1="398.2" y1="390.96" x2="399.2" y2="390.96" stroke="#444" stroke-width="0.5" />
<line x1="398.2" y1="386.74" x2="399.2" y2="386.74" stroke="#444" stroke-width="0.5" />
<line x1="398.2" y1="382.52" x2="399.2" y2="382.52" stroke="#444" stroke-width="0.5" />
<line x1="398.2" y1="378.3" x2="400.2" y2="378.3" stroke="#444" stroke-width="0.8" />
<text x="394.5" y="380.1" font-family="'Liberation Sans',sans-serif" font-size="5" font-weight="bold" fill="#333" text-anchor="end"  stroke="#333" stroke-width="0.15">0.7</text>
<line x1="398.2" y1="374.08" x2="399.2" y2="374.08" stroke="#444" stroke-width="0.5" />
<line x1="398.2" y1="369.86" x2="399.2" y2="369.86" stroke="#444" stroke-width="0.5" />
<line x1="398.2" y1="365.64" x2="399.2" y2="365.64" stroke="#444" stroke-width="0.5" />
<line x1="398.2" y1="361.42" x2="399.2" y2="361.42" stroke="#444" stroke-width="0.5" />
<line x1="398.2" y1="357.2" x2="400.2" y2="357.2" stroke="#444" stroke-width="0.8" />
<text x="394.5" y="359" font-family="'Liberation Sans',sans-serif" font-size="5" font-weight="bold" fill="#333" text-anchor="end"  stroke="#333" stroke-width="0.15">0.8</text>
<line x1="398.2" y1="352.98" x2="399.2" y2="352.98" stroke="#444" stroke-width="0.5" />
<line x1="398.2" y1="348.76" x2="399.2" y2="348.76" stroke="#444" stroke-width="0.5" />
<line x1="398.2" y1="344.54" x2="399.2" y2="344.54" stroke="#444" stroke-width="0.5" />
<line x1="398.2" y1="340.32" x2="399.2" y2="340.32" stroke="#444" stroke-width="0.5" />
<line x1="398.2" y1="336.1" x2="400.2" y2="336.1" stroke="#444" stroke-width="0.8" />
<text x="394.5" y="337.9" font-family="'Liberation Sans',sans-serif" font-size="5" font-weight="bold" fill="#333" text-anchor="end"  stroke="#333" stroke-width="0.15">0.9</text>
<line x1="398.2" y1="331.88" x2="399.2" y2="331.88" stroke="#444" stroke-width="0.5" />
<line x1="398.2" y1="327.66" x2="399.2" y2="327.66" stroke="#444" stroke-width="0.5" />
<line x1="398.2" y1="323.44" x2="399.2" y2="323.44" stroke="#444" stroke-width="0.5" />
<line x1="398.2" y1="319.22" x2="399.2" y2="319.22" stroke="#444" stroke-width="0.5" />
<line x1="398.2" y1="315" x2="400.2" y2="315" stroke="#444" stroke-width="0.8" />
<text x="394.5" y="316.8" font-family="'Liberation Sans',sans-serif" font-size="5" font-weight="bold" fill="#333" text-anchor="end"  stroke="#333" stroke-width="0.15">1.0</text>
<line x1="398.2" y1="310.78" x2="399.2" y2="310.78" stroke="#444" stroke-width="0.5" />
<line x1="398.2" y1="306.56" x2="399.2" y2="306.56" stroke="#444" stroke-width="0.5" />
<line x1="398.2" y1="302.34" x2="399.2" y2="302.34" stroke="#444" stroke-width="0.5" />
<line x1="398.2" y1="298.12" x2="399.2" y2="298.12" stroke="#444" stroke-width="0.5" />
<line x1="398.2" y1="293.9" x2="400.2" y2="293.9" stroke="#444" stroke-width="0.8" />
<text x="394.5" y="295.7" font-family="'Liberation Sans',sans-serif" font-size="5" font-weight="bold" fill="#333" text-anchor="end"  stroke="#333" stroke-width="0.15">1.1</text>
<line x1="398.2" y1="289.68" x2="399.2" y2="289.68" stroke="#444" stroke-width="0.5" />
<line x1="398.2" y1="285.46" x2="399.2" y2="285.46" stroke="#444" stroke-width="0.5" />
<line x1="401.5" y1="420.5" x2="401.5" y2="418.5" stroke="#444" stroke-width="0.8" />
<text x="401.5" y="428" font-family="'Liberation Sans',sans-serif" font-size="5.6" font-weight="bold" fill="#222" text-anchor="middle"  stroke="#222" stroke-width="0.15">0</text>
<line x1="434.39" y1="420.5" x2="434.39" y2="418.5" stroke="#444" stroke-width="0.8" />
<text x="434.39" y="428" font-family="'Liberation Sans',sans-serif" font-size="5.6" font-weight="bold" fill="#222" text-anchor="middle"  stroke="#222" stroke-width="0.15">30</text>
<line x1="467.29" y1="420.5" x2="467.29" y2="418.5" stroke="#444" stroke-width="0.8" />
<text x="467.29" y="428" font-family="'Liberation Sans',sans-serif" font-size="5.6" font-weight="bold" fill="#222" text-anchor="middle"  stroke="#222" stroke-width="0.15">60</text>
<line x1="500.19" y1="420.5" x2="500.19" y2="418.5" stroke="#444" stroke-width="0.8" />
<text x="500.19" y="428" font-family="'Liberation Sans',sans-serif" font-size="5.6" font-weight="bold" fill="#222" text-anchor="middle"  stroke="#222" stroke-width="0.15">90</text>
<line x1="533.08" y1="420.5" x2="533.08" y2="418.5" stroke="#444" stroke-width="0.8" />
<text x="533.08" y="428" font-family="'Liberation Sans',sans-serif" font-size="5.6" font-weight="bold" fill="#222" text-anchor="middle"  stroke="#222" stroke-width="0.15">120</text>
<text x="467" y="437.4" font-family="'Liberation Sans',sans-serif" font-size="6" font-weight="bold" fill="#222" text-anchor="middle" textLength="51.3" lengthAdjust="spacingAndGlyphs" stroke="#222" stroke-width="0.15">Reaction Time (min)</text>
<text transform="translate(385.6,353.6) rotate(-90)" font-family="'Liberation Sans',sans-serif" font-size="6" font-weight="bold" fill="#222" text-anchor="middle" textLength="41.6" lengthAdjust="spacingAndGlyphs" stroke="#222" stroke-width="0.15">[PFOA]<tspan font-size="3.8" dy="1">t</tspan><tspan dy="-1">/[PFOA]</tspan><tspan font-size="3.8" dy="1">0</tspan></text>
<text x="405.4" y="295.6" font-family="'Liberation Sans',sans-serif" font-size="9" font-weight="bold" fill="#222" text-anchor="start"  stroke="#222" stroke-width="0.15">(a)</text>
<polyline points="401.5,315 434.39,313.95 467.29,317.32 533.08,317.11" fill="none" stroke="#9a9a9a" stroke-width="1"/>
<polyline points="401.5,315 434.39,320.91 467.29,325.34 533.08,326.61" fill="none" stroke="#ff5ab4" stroke-width="1"/>
<polyline points="401.5,315 434.39,334.41 467.29,365.22 533.08,393.49" fill="none" stroke="#6a6ae0" stroke-width="1"/>
<polyline points="401.5,315 434.39,340.95 467.29,371.55 533.08,391.8" fill="none" stroke="#333333" stroke-width="1"/>
<polyline points="401.5,315 434.39,338 467.29,359.31 533.08,379.36" fill="none" stroke="#e03a30" stroke-width="1"/>
<polygon points="399.3,313.2 403.7,313.2 401.5,317" fill="#9a9a9a"/>
<polygon points="432.19,312.15 436.59,312.15 434.39,315.95" fill="#9a9a9a"/>
<polygon points="465.09,315.52 469.49,315.52 467.29,319.32" fill="#9a9a9a"/>
<polygon points="530.88,315.31 535.28,315.31 533.08,319.11" fill="#9a9a9a"/>
<rect x="399.4" y="312.9" width="4.2" height="4.2" fill="#ff5ab4" />
<rect x="432.29" y="318.81" width="4.2" height="4.2" fill="#ff5ab4" />
<rect x="465.19" y="323.24" width="4.2" height="4.2" fill="#ff5ab4" />
<rect x="530.98" y="324.5" width="4.2" height="4.2" fill="#ff5ab4" />
<circle cx="401.5" cy="315" r="2.2" fill="#6a6ae0" />
<line x1="434.39" y1="325.97" x2="434.39" y2="342.85" stroke="#6a6ae0" stroke-width="0.7" />
<line x1="432.89" y1="325.97" x2="435.89" y2="325.97" stroke="#6a6ae0" stroke-width="0.7" />
<line x1="432.89" y1="342.85" x2="435.89" y2="342.85" stroke="#6a6ae0" stroke-width="0.7" />
<circle cx="434.39" cy="334.41" r="2.2" fill="#6a6ae0" />
<line x1="467.29" y1="349.39" x2="467.29" y2="381.04" stroke="#6a6ae0" stroke-width="0.7" />
<line x1="465.79" y1="349.39" x2="468.79" y2="349.39" stroke="#6a6ae0" stroke-width="0.7" />
<line x1="465.79" y1="381.04" x2="468.79" y2="381.04" stroke="#6a6ae0" stroke-width="0.7" />
<circle cx="467.29" cy="365.22" r="2.2" fill="#6a6ae0" />
<line x1="533.08" y1="375.56" x2="533.08" y2="411.43" stroke="#6a6ae0" stroke-width="0.7" />
<line x1="531.58" y1="375.56" x2="534.58" y2="375.56" stroke="#6a6ae0" stroke-width="0.7" />
<line x1="531.58" y1="411.43" x2="534.58" y2="411.43" stroke="#6a6ae0" stroke-width="0.7" />
<circle cx="533.08" cy="393.49" r="2.2" fill="#6a6ae0" />
<polygon points="401.5,312.5 404,315 401.5,317.5 399,315" fill="none" stroke="#333333" stroke-width="0.9"/>
<polygon points="434.39,338.45 436.89,340.95 434.39,343.45 431.89,340.95" fill="none" stroke="#333333" stroke-width="0.9"/>
<polygon points="467.29,369.05 469.79,371.55 467.29,374.05 464.79,371.55" fill="none" stroke="#333333" stroke-width="0.9"/>
<polygon points="533.08,389.3 535.58,391.8 533.08,394.3 530.58,391.8" fill="none" stroke="#333333" stroke-width="0.9"/>
<polygon points="399.1,317 403.9,317 401.5,312.6" fill="#e03a30" fill-opacity="0.6" stroke="#e03a30" stroke-width="0.8"/>
<line x1="434.39" y1="335.89" x2="434.39" y2="340.11" stroke="#e03a30" stroke-width="0.7" />
<line x1="432.89" y1="335.89" x2="435.89" y2="335.89" stroke="#e03a30" stroke-width="0.7" />
<line x1="432.89" y1="340.11" x2="435.89" y2="340.11" stroke="#e03a30" stroke-width="0.7" />
<polygon points="432,340 436.79,340 434.39,335.6" fill="#e03a30" fill-opacity="0.6" stroke="#e03a30" stroke-width="0.8"/>
<line x1="467.29" y1="354.03" x2="467.29" y2="364.58" stroke="#e03a30" stroke-width="0.7" />
<line x1="465.79" y1="354.03" x2="468.79" y2="354.03" stroke="#e03a30" stroke-width="0.7" />
<line x1="465.79" y1="364.58" x2="468.79" y2="364.58" stroke="#e03a30" stroke-width="0.7" />
<polygon points="464.89,361.31 469.69,361.31 467.29,356.91" fill="#e03a30" fill-opacity="0.6" stroke="#e03a30" stroke-width="0.8"/>
<line x1="533.08" y1="374.08" x2="533.08" y2="384.63" stroke="#e03a30" stroke-width="0.7" />
<line x1="531.58" y1="374.08" x2="534.58" y2="374.08" stroke="#e03a30" stroke-width="0.7" />
<line x1="531.58" y1="384.63" x2="534.58" y2="384.63" stroke="#e03a30" stroke-width="0.7" />
<polygon points="530.68,381.36 535.48,381.36 533.08,376.96" fill="#e03a30" fill-opacity="0.6" stroke="#e03a30" stroke-width="0.8"/>
<line x1="405.2" y1="387.6" x2="415.9" y2="387.6" stroke="#9a9a9a" stroke-width="0.8" />
<polygon points="408.5,386 412.5,386 410.5,389.4" fill="#9a9a9a"/>
<text x="418.4" y="389.5" font-family="'Liberation Sans',sans-serif" font-size="5.3" font-weight="bold" fill="#333" textLength="47.3" lengthAdjust="spacingAndGlyphs" stroke="#333" stroke-width="0.15">Facet-engineered TiO<tspan font-size="3.8" dy="1">2</tspan></text>
<line x1="405.2" y1="393.6" x2="415.9" y2="393.6" stroke="#ff5ab4" stroke-width="0.8" />
<rect x="408.6" y="391.7" width="3.8" height="3.8" fill="#ff5ab4" />
<text x="418.4" y="395.5" font-family="'Liberation Sans',sans-serif" font-size="5.3" font-weight="bold" fill="#333" textLength="54.5" lengthAdjust="spacingAndGlyphs" stroke="#333" stroke-width="0.15">Pt<tspan font-size="3.8" dy="1">NP</tspan><tspan dy="-1"> / facet-engineered TiO</tspan><tspan font-size="3.8" dy="1">2</tspan></text>
<line x1="405.2" y1="400.4" x2="415.9" y2="400.4" stroke="#6a6ae0" stroke-width="0.8" />
<circle cx="410.5" cy="400.4" r="2" fill="#6a6ae0" />
<text x="418.4" y="402.3" font-family="'Liberation Sans',sans-serif" font-size="5.3" font-weight="bold" fill="#333" textLength="51.8" lengthAdjust="spacingAndGlyphs" stroke="#333" stroke-width="0.15">Pt<tspan font-size="3.8" dy="1">1</tspan><tspan dy="-1"> / facet-engineered TiO</tspan><tspan font-size="3.8" dy="1">2</tspan></text>
<line x1="405.2" y1="407.3" x2="415.9" y2="407.3" stroke="#333333" stroke-width="0.8" />
<polygon points="410.5,405 412.8,407.3 410.5,409.6 408.2,407.3" fill="#fff" stroke="#333333" stroke-width="0.8"/>
<text x="418.4" y="409.2" font-family="'Liberation Sans',sans-serif" font-size="5.3" font-weight="bold" fill="#333" textLength="79.8" lengthAdjust="spacingAndGlyphs" stroke="#333" stroke-width="0.15">Pt<tspan font-size="3.8" dy="1">1</tspan><tspan dy="-1"> / facet-engineered TiO</tspan><tspan font-size="3.8" dy="1">2</tspan><tspan dy="-1"> (w/ MeOH)</tspan></text>
<line x1="405.2" y1="413.6" x2="415.9" y2="413.6" stroke="#e03a30" stroke-width="0.8" />
<polygon points="408.3,415.4 412.7,415.4 410.5,411.4" fill="#fff" stroke="#e03a30" stroke-width="0.8"/>
<text x="418.4" y="415.5" font-family="'Liberation Sans',sans-serif" font-size="5.3" font-weight="bold" fill="#333" textLength="76.2" lengthAdjust="spacingAndGlyphs" stroke="#333" stroke-width="0.15">Pt<tspan font-size="3.8" dy="1">1</tspan><tspan dy="-1"> / facet-engineered TiO</tspan><tspan font-size="3.8" dy="1">2</tspan><tspan dy="-1"> (w/ SOD)</tspan></text>
<text x="20" y="17" font-family="'Liberation Serif',serif" font-size="8.4" font-weight="bold" fill="#111" text-anchor="start" textLength="30" lengthAdjust="spacingAndGlyphs" stroke="#111" stroke-width="0.3">*acetone</text>
<text x="83.5" y="16.8" font-family="'Liberation Serif',serif" font-size="8.4" font-weight="bold" fill="#111" text-anchor="start"  stroke="#111" stroke-width="0.3">*H</text>
<text x="19.5" y="78" font-family="'Liberation Serif',serif" font-size="8.4" font-weight="bold" fill="#111" text-anchor="start" textLength="43" lengthAdjust="spacingAndGlyphs" stroke="#111" stroke-width="0.3">*H + acetone</text>
<text x="84" y="77.8" font-family="'Liberation Serif',serif" font-size="8.4" font-weight="bold" fill="#111" text-anchor="start" textLength="24" lengthAdjust="spacingAndGlyphs" stroke="#111" stroke-width="0.3">*H + H</text>
<circle cx="58.3" cy="67.5" r="3.8" fill="url(#gTi)"/>
<circle cx="29" cy="67.5" r="3.4" fill="url(#gTi)"/>
<line x1="20.5" y1="60.9" x2="80.5" y2="60.9" stroke="#62c4ee" stroke-width="1.8" />
<line x1="20.5" y1="66.9" x2="80.5" y2="66.9" stroke="#62c4ee" stroke-width="1.8" />
<line x1="29" y1="54.5" x2="29" y2="63.9" stroke="#f00000" stroke-width="1.2" />
<circle cx="29" cy="64.4" r="4.9" fill="url(#gTi)"/>
<circle cx="29" cy="54.5" r="2.1" fill="url(#gO)"/>
<circle cx="29" cy="60.4" r="1.8" fill="url(#gO)"/>
<line x1="43.6" y1="56" x2="43.6" y2="67.9" stroke="#f00000" stroke-width="1.2" />
<circle cx="43.6" cy="64.9" r="4.2" fill="url(#gTi)"/>
<line x1="39.1" y1="60.9" x2="48.1" y2="60.9" stroke="#f00000" stroke-width="1.1" />
<line x1="39.1" y1="66.9" x2="48.1" y2="66.9" stroke="#f00000" stroke-width="1.1" />
<circle cx="43.6" cy="56" r="2" fill="url(#gO)"/>
<circle cx="43.6" cy="60.9" r="2" fill="url(#gO)"/>
<circle cx="43.6" cy="66.9" r="2" fill="url(#gO)"/>
<line x1="58.2" y1="54.5" x2="58.2" y2="63.9" stroke="#f00000" stroke-width="1.2" />
<circle cx="58.2" cy="64.4" r="4.9" fill="url(#gTi)"/>
<circle cx="58.2" cy="54.5" r="2.1" fill="url(#gO)"/>
<circle cx="58.2" cy="60.4" r="1.8" fill="url(#gO)"/>
<line x1="72.8" y1="56" x2="72.8" y2="67.9" stroke="#f00000" stroke-width="1.2" />
<circle cx="72.8" cy="64.9" r="4.2" fill="url(#gTi)"/>
<line x1="68.3" y1="60.9" x2="77.3" y2="60.9" stroke="#f00000" stroke-width="1.1" />
<line x1="68.3" y1="66.9" x2="77.3" y2="66.9" stroke="#f00000" stroke-width="1.1" />
<circle cx="72.8" cy="56" r="2" fill="url(#gO)"/>
<circle cx="72.8" cy="60.9" r="2" fill="url(#gO)"/>
<circle cx="72.8" cy="66.9" r="2" fill="url(#gO)"/>
<line x1="29" y1="54.2" x2="41.7" y2="49.7" stroke="#1010e0" stroke-width="1.3" stroke-linecap="round"/>
<line x1="41.7" y1="49.7" x2="57.6" y2="48.5" stroke="#1010e0" stroke-width="1.3" stroke-linecap="round"/>
<line x1="41.7" y1="49.7" x2="38.5" y2="41" stroke="#2030ff" stroke-width="1" stroke-linecap="round"/>
<circle cx="38.5" cy="40.2" r="1.4" fill="url(#gH)"/>
<circle cx="41.7" cy="49.7" r="4" fill="url(#gPt)"/>
<line x1="57.6" y1="48.5" x2="59.8" y2="40" stroke="#f00000" stroke-width="1.3" stroke-linecap="round"/>
<line x1="59.8" y1="40" x2="64" y2="40.2" stroke="#a86a40" stroke-width="1.3" stroke-linecap="round"/>
<line x1="64" y1="40.2" x2="59.8" y2="28.6" stroke="#a86a40" stroke-width="1.3" stroke-linecap="round"/>
<line x1="59.8" y1="28.6" x2="50.5" y2="26.9" stroke="#e02020" stroke-width="1.3" stroke-linecap="round"/>
<line x1="59.8" y1="28.6" x2="68.2" y2="20.5" stroke="#a86a40" stroke-width="1.3" stroke-linecap="round"/>
<circle cx="71" cy="40.2" r="1.2" fill="url(#gH)"/>
<circle cx="64.8" cy="12.6" r="1.2" fill="url(#gH)"/>
<circle cx="73.2" cy="21" r="1.2" fill="url(#gH)"/>
<circle cx="61.5" cy="40.5" r="1" fill="url(#gH)"/>
<line x1="64" y1="40.2" x2="71" y2="40.2" stroke="#c8a090" stroke-width="0.8" stroke-linecap="round"/>
<line x1="68.2" y1="20.5" x2="64.8" y2="12.6" stroke="#c8a090" stroke-width="0.8" stroke-linecap="round"/>
<line x1="68.2" y1="20.5" x2="73.2" y2="21" stroke="#c8a090" stroke-width="0.8" stroke-linecap="round"/>
<circle cx="64" cy="40.2" r="1.8" fill="url(#gC)"/>
<circle cx="59.8" cy="28.6" r="1.8" fill="url(#gC)"/>
<circle cx="68.2" cy="20.5" r="1.8" fill="url(#gC)"/>
<circle cx="50.5" cy="26.9" r="1.9" fill="url(#gO)"/>
<circle cx="57.6" cy="48.5" r="1.9" fill="url(#gO)"/>
<line x1="84.5" y1="50.2" x2="144" y2="50.2" stroke="#62c4ee" stroke-width="1.8" />
<line x1="84.5" y1="55.6" x2="144" y2="55.6" stroke="#62c4ee" stroke-width="1.8" />
<line x1="91.1" y1="56.6" x2="91.1" y2="67.6" stroke="#f00000" stroke-width="1.1" />
<circle cx="91.1" cy="62.1" r="1.4" fill="url(#gO)"/>
<circle cx="91.1" cy="67.6" r="1.3" fill="url(#gO)"/>
<line x1="91.1" y1="43.1" x2="91.1" y2="52.9" stroke="#f00000" stroke-width="1.2" />
<circle cx="91.1" cy="53.4" r="4.9" fill="url(#gTi)"/>
<circle cx="91.1" cy="43.1" r="2.1" fill="url(#gO)"/>
<circle cx="91.1" cy="49.7" r="1.8" fill="url(#gO)"/>
<line x1="106.37" y1="56.6" x2="106.37" y2="67.6" stroke="#f00000" stroke-width="1.1" />
<circle cx="106.37" cy="62.1" r="1.4" fill="url(#gO)"/>
<circle cx="106.37" cy="67.6" r="1.3" fill="url(#gO)"/>
<line x1="106.37" y1="44.6" x2="106.37" y2="56.6" stroke="#f00000" stroke-width="1.2" />
<circle cx="106.37" cy="53.9" r="4.2" fill="url(#gTi)"/>
<line x1="101.87" y1="50.2" x2="110.87" y2="50.2" stroke="#f00000" stroke-width="1.1" />
<line x1="101.87" y1="55.6" x2="110.87" y2="55.6" stroke="#f00000" stroke-width="1.1" />
<circle cx="106.37" cy="44.6" r="2" fill="url(#gO)"/>
<circle cx="106.37" cy="50.2" r="2" fill="url(#gO)"/>
<circle cx="106.37" cy="55.6" r="2" fill="url(#gO)"/>
<line x1="121.64" y1="56.6" x2="121.64" y2="67.6" stroke="#f00000" stroke-width="1.1" />
<circle cx="121.64" cy="62.1" r="1.4" fill="url(#gO)"/>
<circle cx="121.64" cy="67.6" r="1.3" fill="url(#gO)"/>
<line x1="121.64" y1="43.1" x2="121.64" y2="52.9" stroke="#f00000" stroke-width="1.2" />
<circle cx="121.64" cy="53.4" r="4.9" fill="url(#gTi)"/>
<circle cx="121.64" cy="43.1" r="2.1" fill="url(#gO)"/>
<circle cx="121.64" cy="49.7" r="1.8" fill="url(#gO)"/>
<line x1="136.91" y1="56.6" x2="136.91" y2="67.6" stroke="#f00000" stroke-width="1.1" />
<circle cx="136.91" cy="62.1" r="1.4" fill="url(#gO)"/>
<circle cx="136.91" cy="67.6" r="1.3" fill="url(#gO)"/>
<line x1="136.91" y1="44.6" x2="136.91" y2="56.6" stroke="#f00000" stroke-width="1.2" />
<circle cx="136.91" cy="53.9" r="4.2" fill="url(#gTi)"/>
<line x1="132.41" y1="50.2" x2="141.41" y2="50.2" stroke="#f00000" stroke-width="1.1" />
<line x1="132.41" y1="55.6" x2="141.41" y2="55.6" stroke="#f00000" stroke-width="1.1" />
<circle cx="136.91" cy="44.6" r="2" fill="url(#gO)"/>
<circle cx="136.91" cy="50.2" r="2" fill="url(#gO)"/>
<circle cx="136.91" cy="55.6" r="2" fill="url(#gO)"/>
<line x1="91.1" y1="43.1" x2="106.4" y2="40.9" stroke="#1010e0" stroke-width="1.3" stroke-linecap="round"/>
<line x1="106.4" y1="40.9" x2="121.6" y2="43.1" stroke="#1010e0" stroke-width="1.3" stroke-linecap="round"/>
<line x1="106.4" y1="40.9" x2="106.4" y2="31" stroke="#3040ff" stroke-width="1" stroke-linecap="round"/>
<circle cx="106.4" cy="30.5" r="1.4" fill="url(#gH)"/>
<circle cx="106.4" cy="40.9" r="4" fill="url(#gPt)"/>
<circle cx="91.1" cy="43.1" r="2.1" fill="url(#gO)"/>
<circle cx="121.6" cy="43.1" r="2.1" fill="url(#gO)"/>
<circle cx="56.1" cy="127" r="4.2" fill="url(#gTi)"/>
<circle cx="28.5" cy="126" r="3.6" fill="url(#gTi)"/>
<line x1="20.2" y1="118.6" x2="80.5" y2="118.6" stroke="#62c4ee" stroke-width="1.8" />
<line x1="20.2" y1="123.2" x2="80.5" y2="123.2" stroke="#62c4ee" stroke-width="1.8" />
<line x1="28.5" y1="113.5" x2="28.5" y2="120.9" stroke="#f00000" stroke-width="1.2" />
<circle cx="28.5" cy="121.4" r="4.9" fill="url(#gTi)"/>
<circle cx="28.5" cy="113.5" r="2.1" fill="url(#gO)"/>
<circle cx="28.5" cy="118.1" r="1.8" fill="url(#gO)"/>
<line x1="42.4" y1="115" x2="42.4" y2="124.2" stroke="#f00000" stroke-width="1.2" />
<circle cx="42.4" cy="121.9" r="4.2" fill="url(#gTi)"/>
<line x1="37.9" y1="118.6" x2="46.9" y2="118.6" stroke="#f00000" stroke-width="1.1" />
<line x1="37.9" y1="123.2" x2="46.9" y2="123.2" stroke="#f00000" stroke-width="1.1" />
<circle cx="42.4" cy="115" r="2" fill="url(#gO)"/>
<circle cx="42.4" cy="118.6" r="2" fill="url(#gO)"/>
<circle cx="42.4" cy="123.2" r="2" fill="url(#gO)"/>
<line x1="56.3" y1="113.5" x2="56.3" y2="120.9" stroke="#f00000" stroke-width="1.2" />
<circle cx="56.3" cy="121.4" r="4.9" fill="url(#gTi)"/>
<circle cx="56.3" cy="113.5" r="2.1" fill="url(#gO)"/>
<circle cx="56.3" cy="118.1" r="1.8" fill="url(#gO)"/>
<line x1="70.2" y1="115" x2="70.2" y2="124.2" stroke="#f00000" stroke-width="1.2" />
<circle cx="70.2" cy="121.9" r="4.2" fill="url(#gTi)"/>
<line x1="65.7" y1="118.6" x2="74.7" y2="118.6" stroke="#f00000" stroke-width="1.1" />
<line x1="65.7" y1="123.2" x2="74.7" y2="123.2" stroke="#f00000" stroke-width="1.1" />
<circle cx="70.2" cy="115" r="2" fill="url(#gO)"/>
<circle cx="70.2" cy="118.6" r="2" fill="url(#gO)"/>
<circle cx="70.2" cy="123.2" r="2" fill="url(#gO)"/>
<line x1="28.5" y1="114.1" x2="38.6" y2="104.7" stroke="#1010e0" stroke-width="1.3" stroke-linecap="round"/>
<line x1="38.6" y1="104.7" x2="36.6" y2="95.2" stroke="#3040ff" stroke-width="1" stroke-linecap="round"/>
<line x1="38.6" y1="104.7" x2="45.3" y2="97.3" stroke="#3040ff" stroke-width="1" stroke-linecap="round"/>
<circle cx="36.6" cy="95.2" r="1.4" fill="url(#gH)"/>
<circle cx="45.3" cy="97.3" r="1.4" fill="url(#gH)"/>
<circle cx="38.6" cy="104.7" r="4" fill="url(#gPt)"/>
<circle cx="28.5" cy="114.1" r="2" fill="url(#gO)"/>
<line x1="56.1" y1="113" x2="57.5" y2="105.8" stroke="#f00000" stroke-width="1.3" stroke-linecap="round"/>
<line x1="57.5" y1="105.8" x2="64.2" y2="97.9" stroke="#e03030" stroke-width="1.3" stroke-linecap="round"/>
<line x1="64.2" y1="97.9" x2="59.5" y2="87.8" stroke="#a86a40" stroke-width="1.3" stroke-linecap="round"/>
<line x1="59.5" y1="87.8" x2="52.1" y2="86.9" stroke="#e02020" stroke-width="1.3" stroke-linecap="round"/>
<line x1="59.5" y1="87.8" x2="67" y2="79.7" stroke="#a86a40" stroke-width="1.3" stroke-linecap="round"/>
<line x1="64.2" y1="97.9" x2="71" y2="99" stroke="#c8a090" stroke-width="0.8" stroke-linecap="round"/>
<line x1="67" y1="79.7" x2="72.3" y2="79" stroke="#c8a090" stroke-width="0.8" stroke-linecap="round"/>
<line x1="67" y1="79.7" x2="65" y2="74.5" stroke="#c8a090" stroke-width="0.8" stroke-linecap="round"/>
<circle cx="71" cy="99" r="1.2" fill="url(#gH)"/>
<circle cx="72.3" cy="79" r="1.2" fill="url(#gH)"/>
<circle cx="65" cy="74.5" r="1.1" fill="url(#gH)"/>
<circle cx="62" cy="97" r="1" fill="url(#gH)"/>
<circle cx="64.2" cy="97.9" r="1.8" fill="url(#gC)"/>
<circle cx="59.5" cy="87.8" r="1.8" fill="url(#gC)"/>
<circle cx="67" cy="79.7" r="1.8" fill="url(#gC)"/>
<circle cx="52.1" cy="86.9" r="1.9" fill="url(#gO)"/>
<circle cx="57.5" cy="105.8" r="1.9" fill="url(#gO)"/>
<line x1="83" y1="113.5" x2="143.6" y2="113.5" stroke="#62c4ee" stroke-width="1.8" />
<line x1="83" y1="119" x2="143.6" y2="119" stroke="#62c4ee" stroke-width="1.8" />
<line x1="92.1" y1="120" x2="92.1" y2="131" stroke="#f00000" stroke-width="1.1" />
<circle cx="92.1" cy="125.5" r="1.4" fill="url(#gO)"/>
<circle cx="92.1" cy="131" r="1.3" fill="url(#gO)"/>
<line x1="92.1" y1="107.5" x2="92.1" y2="116.25" stroke="#f00000" stroke-width="1.2" />
<circle cx="92.1" cy="116.75" r="4.9" fill="url(#gTi)"/>
<circle cx="92.1" cy="107.5" r="2.1" fill="url(#gO)"/>
<circle cx="92.1" cy="113" r="1.8" fill="url(#gO)"/>
<line x1="106.23" y1="120" x2="106.23" y2="131" stroke="#f00000" stroke-width="1.1" />
<circle cx="106.23" cy="125.5" r="1.4" fill="url(#gO)"/>
<circle cx="106.23" cy="131" r="1.3" fill="url(#gO)"/>
<line x1="106.23" y1="109" x2="106.23" y2="120" stroke="#f00000" stroke-width="1.2" />
<circle cx="106.23" cy="117.25" r="4.2" fill="url(#gTi)"/>
<line x1="101.73" y1="113.5" x2="110.73" y2="113.5" stroke="#f00000" stroke-width="1.1" />
<line x1="101.73" y1="119" x2="110.73" y2="119" stroke="#f00000" stroke-width="1.1" />
<circle cx="106.23" cy="109" r="2" fill="url(#gO)"/>
<circle cx="106.23" cy="113.5" r="2" fill="url(#gO)"/>
<circle cx="106.23" cy="119" r="2" fill="url(#gO)"/>
<line x1="120.36" y1="120" x2="120.36" y2="131" stroke="#f00000" stroke-width="1.1" />
<circle cx="120.36" cy="125.5" r="1.4" fill="url(#gO)"/>
<circle cx="120.36" cy="131" r="1.3" fill="url(#gO)"/>
<line x1="120.36" y1="107.5" x2="120.36" y2="116.25" stroke="#f00000" stroke-width="1.2" />
<circle cx="120.36" cy="116.75" r="4.9" fill="url(#gTi)"/>
<circle cx="120.36" cy="107.5" r="2.1" fill="url(#gO)"/>
<circle cx="120.36" cy="113" r="1.8" fill="url(#gO)"/>
<line x1="134.49" y1="120" x2="134.49" y2="131" stroke="#f00000" stroke-width="1.1" />
<circle cx="134.49" cy="125.5" r="1.4" fill="url(#gO)"/>
<circle cx="134.49" cy="131" r="1.3" fill="url(#gO)"/>
<line x1="134.49" y1="109" x2="134.49" y2="120" stroke="#f00000" stroke-width="1.2" />
<circle cx="134.49" cy="117.25" r="4.2" fill="url(#gTi)"/>
<line x1="129.99" y1="113.5" x2="138.99" y2="113.5" stroke="#f00000" stroke-width="1.1" />
<line x1="129.99" y1="119" x2="138.99" y2="119" stroke="#f00000" stroke-width="1.1" />
<circle cx="134.49" cy="109" r="2" fill="url(#gO)"/>
<circle cx="134.49" cy="113.5" r="2" fill="url(#gO)"/>
<circle cx="134.49" cy="119" r="2" fill="url(#gO)"/>
<line x1="112" y1="92.3" x2="120.4" y2="107.5" stroke="#2030ff" stroke-width="1.1" stroke-linecap="round"/>
<line x1="112" y1="92.3" x2="105.5" y2="82.5" stroke="#3040ff" stroke-width="1" stroke-linecap="round"/>
<circle cx="105.3" cy="82.2" r="1.4" fill="url(#gH)"/>
<circle cx="106.6" cy="86.3" r="1.3" fill="url(#gH)"/>
<circle cx="112" cy="92.3" r="3.9" fill="url(#gPt)"/>
<circle cx="120.4" cy="107.5" r="2.1" fill="url(#gO)"/>
<circle cx="25.2" cy="137.4" r="3.8" fill="url(#gPt)"/>
<circle cx="38.7" cy="137.4" r="4" fill="url(#gTi)"/>
<circle cx="52.5" cy="137.4" r="1.9" fill="url(#gO)"/>
<circle cx="65.6" cy="137.4" r="1.9" fill="url(#gC)"/>
<circle cx="78" cy="137.4" r="1.3" fill="url(#gH)"/>
<text x="25.6" y="148" font-family="'Liberation Serif',serif" font-size="8.6" font-weight="bold" fill="#111" text-anchor="middle"  stroke="#111" stroke-width="0.3">Pt</text>
<text x="39.5" y="148" font-family="'Liberation Serif',serif" font-size="8.6" font-weight="bold" fill="#111" text-anchor="middle"  stroke="#111" stroke-width="0.3">Ti</text>
<text x="52.5" y="148" font-family="'Liberation Serif',serif" font-size="8.6" font-weight="bold" fill="#111" text-anchor="middle"  stroke="#111" stroke-width="0.3">O</text>
<text x="66" y="148" font-family="'Liberation Serif',serif" font-size="8.6" font-weight="bold" fill="#111" text-anchor="middle"  stroke="#111" stroke-width="0.3">C</text>
<text x="78.5" y="148" font-family="'Liberation Serif',serif" font-size="8.6" font-weight="bold" fill="#111" text-anchor="middle"  stroke="#111" stroke-width="0.3">H</text>
<polygon points="34,238.5 79,247 125.5,236 125.5,244 79,264.5 34,245" fill="#2f8fb0"/>
<polygon points="34,227 79,214.5 125.5,227.5 125.5,236 79,247 34,238.5" fill="#66748a"/>
<circle cx="35.8" cy="228.8" r="1.7" fill="url(#gO2)"/>
<circle cx="35.8" cy="230.45" r="0.9" fill="#8a9ab2" />
<circle cx="35.8" cy="232.1" r="1.7" fill="url(#gO2)"/>
<circle cx="35.8" cy="233.75" r="0.9" fill="#8a9ab2" />
<circle cx="35.8" cy="235.4" r="1.7" fill="url(#gO2)"/>
<circle cx="35.8" cy="237.05" r="0.9" fill="#8a9ab2" />
<circle cx="35.8" cy="238.7" r="1.7" fill="url(#gO2)"/>
<circle cx="40.54" cy="227.48" r="1.7" fill="url(#gO2)"/>
<circle cx="40.54" cy="229.13" r="0.9" fill="#8a9ab2" />
<circle cx="40.54" cy="230.78" r="1.7" fill="url(#gO2)"/>
<circle cx="40.54" cy="232.43" r="0.9" fill="#8a9ab2" />
<circle cx="40.54" cy="234.08" r="1.7" fill="url(#gO2)"/>
<circle cx="40.54" cy="235.73" r="0.9" fill="#8a9ab2" />
<circle cx="40.54" cy="237.38" r="1.7" fill="url(#gO2)"/>
<circle cx="40.54" cy="239.03" r="0.9" fill="#8a9ab2" />
<circle cx="45.27" cy="226.17" r="1.7" fill="url(#gO2)"/>
<circle cx="45.27" cy="227.82" r="0.9" fill="#8a9ab2" />
<circle cx="45.27" cy="229.47" r="1.7" fill="url(#gO2)"/>
<circle cx="45.27" cy="231.12" r="0.9" fill="#8a9ab2" />
<circle cx="45.27" cy="232.77" r="1.7" fill="url(#gO2)"/>
<circle cx="45.27" cy="234.42" r="0.9" fill="#8a9ab2" />
<circle cx="45.27" cy="236.07" r="1.7" fill="url(#gO2)"/>
<circle cx="45.27" cy="237.72" r="0.9" fill="#8a9ab2" />
<circle cx="45.27" cy="239.37" r="1.7" fill="url(#gO2)"/>
<circle cx="50.01" cy="224.85" r="1.7" fill="url(#gO2)"/>
<circle cx="50.01" cy="226.5" r="0.9" fill="#8a9ab2" />
<circle cx="50.01" cy="228.15" r="1.7" fill="url(#gO2)"/>
<circle cx="50.01" cy="229.8" r="0.9" fill="#8a9ab2" />
<circle cx="50.01" cy="231.45" r="1.7" fill="url(#gO2)"/>
<circle cx="50.01" cy="233.1" r="0.9" fill="#8a9ab2" />
<circle cx="50.01" cy="234.75" r="1.7" fill="url(#gO2)"/>
<circle cx="50.01" cy="236.4" r="0.9" fill="#8a9ab2" />
<circle cx="50.01" cy="238.05" r="1.7" fill="url(#gO2)"/>
<circle cx="50.01" cy="239.7" r="0.9" fill="#8a9ab2" />
<circle cx="54.75" cy="223.54" r="1.7" fill="url(#gO2)"/>
<circle cx="54.75" cy="225.19" r="0.9" fill="#8a9ab2" />
<circle cx="54.75" cy="226.84" r="1.7" fill="url(#gO2)"/>
<circle cx="54.75" cy="228.49" r="0.9" fill="#8a9ab2" />
<circle cx="54.75" cy="230.14" r="1.7" fill="url(#gO2)"/>
<circle cx="54.75" cy="231.79" r="0.9" fill="#8a9ab2" />
<circle cx="54.75" cy="233.44" r="1.7" fill="url(#gO2)"/>
<circle cx="54.75" cy="235.09" r="0.9" fill="#8a9ab2" />
<circle cx="54.75" cy="236.74" r="1.7" fill="url(#gO2)"/>
<circle cx="54.75" cy="238.39" r="0.9" fill="#8a9ab2" />
<circle cx="54.75" cy="240.04" r="1.7" fill="url(#gO2)"/>
<circle cx="54.75" cy="241.69" r="0.9" fill="#8a9ab2" />
<circle cx="59.48" cy="222.22" r="1.7" fill="url(#gO2)"/>
<circle cx="59.48" cy="223.87" r="0.9" fill="#8a9ab2" />
<circle cx="59.48" cy="225.52" r="1.7" fill="url(#gO2)"/>
<circle cx="59.48" cy="227.17" r="0.9" fill="#8a9ab2" />
<circle cx="59.48" cy="228.82" r="1.7" fill="url(#gO2)"/>
<circle cx="59.48" cy="230.47" r="0.9" fill="#8a9ab2" />
<circle cx="59.48" cy="232.12" r="1.7" fill="url(#gO2)"/>
<circle cx="59.48" cy="233.77" r="0.9" fill="#8a9ab2" />
<circle cx="59.48" cy="235.42" r="1.7" fill="url(#gO2)"/>
<circle cx="59.48" cy="237.07" r="0.9" fill="#8a9ab2" />
<circle cx="59.48" cy="238.72" r="1.7" fill="url(#gO2)"/>
<circle cx="59.48" cy="240.37" r="0.9" fill="#8a9ab2" />
<circle cx="59.48" cy="242.02" r="1.7" fill="url(#gO2)"/>
<circle cx="64.22" cy="220.91" r="1.7" fill="url(#gO2)"/>
<circle cx="64.22" cy="222.56" r="0.9" fill="#8a9ab2" />
<circle cx="64.22" cy="224.21" r="1.7" fill="url(#gO2)"/>
<circle cx="64.22" cy="225.86" r="0.9" fill="#8a9ab2" />
<circle cx="64.22" cy="227.51" r="1.7" fill="url(#gO2)"/>
<circle cx="64.22" cy="229.16" r="0.9" fill="#8a9ab2" />
<circle cx="64.22" cy="230.81" r="1.7" fill="url(#gO2)"/>
<circle cx="64.22" cy="232.46" r="0.9" fill="#8a9ab2" />
<circle cx="64.22" cy="234.11" r="1.7" fill="url(#gO2)"/>
<circle cx="64.22" cy="235.76" r="0.9" fill="#8a9ab2" />
<circle cx="64.22" cy="237.41" r="1.7" fill="url(#gO2)"/>
<circle cx="64.22" cy="239.06" r="0.9" fill="#8a9ab2" />
<circle cx="64.22" cy="240.71" r="1.7" fill="url(#gO2)"/>
<circle cx="64.22" cy="242.36" r="0.9" fill="#8a9ab2" />
<circle cx="68.96" cy="219.59" r="1.7" fill="url(#gO2)"/>
<circle cx="68.96" cy="221.24" r="0.9" fill="#8a9ab2" />
<circle cx="68.96" cy="222.89" r="1.7" fill="url(#gO2)"/>
<circle cx="68.96" cy="224.54" r="0.9" fill="#8a9ab2" />
<circle cx="68.96" cy="226.19" r="1.7" fill="url(#gO2)"/>
<circle cx="68.96" cy="227.84" r="0.9" fill="#8a9ab2" />
<circle cx="68.96" cy="229.49" r="1.7" fill="url(#gO2)"/>
<circle cx="68.96" cy="231.14" r="0.9" fill="#8a9ab2" />
<circle cx="68.96" cy="232.79" r="1.7" fill="url(#gO2)"/>
<circle cx="68.96" cy="234.44" r="0.9" fill="#8a9ab2" />
<circle cx="68.96" cy="236.09" r="1.7" fill="url(#gO2)"/>
<circle cx="68.96" cy="237.74" r="0.9" fill="#8a9ab2" />
<circle cx="68.96" cy="239.39" r="1.7" fill="url(#gO2)"/>
<circle cx="68.96" cy="241.04" r="0.9" fill="#8a9ab2" />
<circle cx="68.96" cy="242.69" r="1.7" fill="url(#gO2)"/>
<circle cx="68.96" cy="244.34" r="0.9" fill="#8a9ab2" />
<circle cx="73.69" cy="218.27" r="1.7" fill="url(#gO2)"/>
<circle cx="73.69" cy="219.92" r="0.9" fill="#8a9ab2" />
<circle cx="73.69" cy="221.57" r="1.7" fill="url(#gO2)"/>
<circle cx="73.69" cy="223.22" r="0.9" fill="#8a9ab2" />
<circle cx="73.69" cy="224.87" r="1.7" fill="url(#gO2)"/>
<circle cx="73.69" cy="226.52" r="0.9" fill="#8a9ab2" />
<circle cx="73.69" cy="228.17" r="1.7" fill="url(#gO2)"/>
<circle cx="73.69" cy="229.82" r="0.9" fill="#8a9ab2" />
<circle cx="73.69" cy="231.47" r="1.7" fill="url(#gO2)"/>
<circle cx="73.69" cy="233.12" r="0.9" fill="#8a9ab2" />
<circle cx="73.69" cy="234.77" r="1.7" fill="url(#gO2)"/>
<circle cx="73.69" cy="236.42" r="0.9" fill="#8a9ab2" />
<circle cx="73.69" cy="238.07" r="1.7" fill="url(#gO2)"/>
<circle cx="73.69" cy="239.72" r="0.9" fill="#8a9ab2" />
<circle cx="73.69" cy="241.37" r="1.7" fill="url(#gO2)"/>
<circle cx="73.69" cy="243.02" r="0.9" fill="#8a9ab2" />
<circle cx="73.69" cy="244.67" r="1.7" fill="url(#gO2)"/>
<circle cx="78.43" cy="216.96" r="1.7" fill="url(#gO2)"/>
<circle cx="78.43" cy="218.61" r="0.9" fill="#8a9ab2" />
<circle cx="78.43" cy="220.26" r="1.7" fill="url(#gO2)"/>
<circle cx="78.43" cy="221.91" r="0.9" fill="#8a9ab2" />
<circle cx="78.43" cy="223.56" r="1.7" fill="url(#gO2)"/>
<circle cx="78.43" cy="225.21" r="0.9" fill="#8a9ab2" />
<circle cx="78.43" cy="226.86" r="1.7" fill="url(#gO2)"/>
<circle cx="78.43" cy="228.51" r="0.9" fill="#8a9ab2" />
<circle cx="78.43" cy="230.16" r="1.7" fill="url(#gO2)"/>
<circle cx="78.43" cy="231.81" r="0.9" fill="#8a9ab2" />
<circle cx="78.43" cy="233.46" r="1.7" fill="url(#gO2)"/>
<circle cx="78.43" cy="235.11" r="0.9" fill="#8a9ab2" />
<circle cx="78.43" cy="236.76" r="1.7" fill="url(#gO2)"/>
<circle cx="78.43" cy="238.41" r="0.9" fill="#8a9ab2" />
<circle cx="78.43" cy="240.06" r="1.7" fill="url(#gO2)"/>
<circle cx="78.43" cy="241.71" r="0.9" fill="#8a9ab2" />
<circle cx="78.43" cy="243.36" r="1.7" fill="url(#gO2)"/>
<circle cx="78.43" cy="245.01" r="0.9" fill="#8a9ab2" />
<circle cx="83.17" cy="218.94" r="1.7" fill="url(#gO2)"/>
<circle cx="83.17" cy="220.59" r="0.9" fill="#8a9ab2" />
<circle cx="83.17" cy="222.24" r="1.7" fill="url(#gO2)"/>
<circle cx="83.17" cy="223.89" r="0.9" fill="#8a9ab2" />
<circle cx="83.17" cy="225.54" r="1.7" fill="url(#gO2)"/>
<circle cx="83.17" cy="227.19" r="0.9" fill="#8a9ab2" />
<circle cx="83.17" cy="228.84" r="1.7" fill="url(#gO2)"/>
<circle cx="83.17" cy="230.49" r="0.9" fill="#8a9ab2" />
<circle cx="83.17" cy="232.14" r="1.7" fill="url(#gO2)"/>
<circle cx="83.17" cy="233.79" r="0.9" fill="#8a9ab2" />
<circle cx="83.17" cy="235.44" r="1.7" fill="url(#gO2)"/>
<circle cx="83.17" cy="237.09" r="0.9" fill="#8a9ab2" />
<circle cx="83.17" cy="238.74" r="1.7" fill="url(#gO2)"/>
<circle cx="83.17" cy="240.39" r="0.9" fill="#8a9ab2" />
<circle cx="83.17" cy="242.04" r="1.7" fill="url(#gO2)"/>
<circle cx="83.17" cy="243.69" r="0.9" fill="#8a9ab2" />
<circle cx="83.17" cy="245.34" r="1.7" fill="url(#gO2)"/>
<circle cx="87.91" cy="217.63" r="1.7" fill="url(#gO2)"/>
<circle cx="87.91" cy="219.28" r="0.9" fill="#8a9ab2" />
<circle cx="87.91" cy="220.93" r="1.7" fill="url(#gO2)"/>
<circle cx="87.91" cy="222.58" r="0.9" fill="#8a9ab2" />
<circle cx="87.91" cy="224.23" r="1.7" fill="url(#gO2)"/>
<circle cx="87.91" cy="225.88" r="0.9" fill="#8a9ab2" />
<circle cx="87.91" cy="227.53" r="1.7" fill="url(#gO2)"/>
<circle cx="87.91" cy="229.18" r="0.9" fill="#8a9ab2" />
<circle cx="87.91" cy="230.83" r="1.7" fill="url(#gO2)"/>
<circle cx="87.91" cy="232.48" r="0.9" fill="#8a9ab2" />
<circle cx="87.91" cy="234.13" r="1.7" fill="url(#gO2)"/>
<circle cx="87.91" cy="235.78" r="0.9" fill="#8a9ab2" />
<circle cx="87.91" cy="237.43" r="1.7" fill="url(#gO2)"/>
<circle cx="87.91" cy="239.08" r="0.9" fill="#8a9ab2" />
<circle cx="87.91" cy="240.73" r="1.7" fill="url(#gO2)"/>
<circle cx="87.91" cy="242.38" r="0.9" fill="#8a9ab2" />
<circle cx="87.91" cy="244.03" r="1.7" fill="url(#gO2)"/>
<circle cx="92.64" cy="219.61" r="1.7" fill="url(#gO2)"/>
<circle cx="92.64" cy="221.26" r="0.9" fill="#8a9ab2" />
<circle cx="92.64" cy="222.91" r="1.7" fill="url(#gO2)"/>
<circle cx="92.64" cy="224.56" r="0.9" fill="#8a9ab2" />
<circle cx="92.64" cy="226.21" r="1.7" fill="url(#gO2)"/>
<circle cx="92.64" cy="227.86" r="0.9" fill="#8a9ab2" />
<circle cx="92.64" cy="229.51" r="1.7" fill="url(#gO2)"/>
<circle cx="92.64" cy="231.16" r="0.9" fill="#8a9ab2" />
<circle cx="92.64" cy="232.81" r="1.7" fill="url(#gO2)"/>
<circle cx="92.64" cy="234.46" r="0.9" fill="#8a9ab2" />
<circle cx="92.64" cy="236.11" r="1.7" fill="url(#gO2)"/>
<circle cx="92.64" cy="237.76" r="0.9" fill="#8a9ab2" />
<circle cx="92.64" cy="239.41" r="1.7" fill="url(#gO2)"/>
<circle cx="92.64" cy="241.06" r="0.9" fill="#8a9ab2" />
<circle cx="92.64" cy="242.71" r="1.7" fill="url(#gO2)"/>
<circle cx="97.38" cy="221.59" r="1.7" fill="url(#gO2)"/>
<circle cx="97.38" cy="223.24" r="0.9" fill="#8a9ab2" />
<circle cx="97.38" cy="224.89" r="1.7" fill="url(#gO2)"/>
<circle cx="97.38" cy="226.54" r="0.9" fill="#8a9ab2" />
<circle cx="97.38" cy="228.19" r="1.7" fill="url(#gO2)"/>
<circle cx="97.38" cy="229.84" r="0.9" fill="#8a9ab2" />
<circle cx="97.38" cy="231.49" r="1.7" fill="url(#gO2)"/>
<circle cx="97.38" cy="233.14" r="0.9" fill="#8a9ab2" />
<circle cx="97.38" cy="234.79" r="1.7" fill="url(#gO2)"/>
<circle cx="97.38" cy="236.44" r="0.9" fill="#8a9ab2" />
<circle cx="97.38" cy="238.09" r="1.7" fill="url(#gO2)"/>
<circle cx="97.38" cy="239.74" r="0.9" fill="#8a9ab2" />
<circle cx="97.38" cy="241.39" r="1.7" fill="url(#gO2)"/>
<circle cx="102.12" cy="223.58" r="1.7" fill="url(#gO2)"/>
<circle cx="102.12" cy="225.23" r="0.9" fill="#8a9ab2" />
<circle cx="102.12" cy="226.88" r="1.7" fill="url(#gO2)"/>
<circle cx="102.12" cy="228.53" r="0.9" fill="#8a9ab2" />
<circle cx="102.12" cy="230.18" r="1.7" fill="url(#gO2)"/>
<circle cx="102.12" cy="231.83" r="0.9" fill="#8a9ab2" />
<circle cx="102.12" cy="233.48" r="1.7" fill="url(#gO2)"/>
<circle cx="102.12" cy="235.13" r="0.9" fill="#8a9ab2" />
<circle cx="102.12" cy="236.78" r="1.7" fill="url(#gO2)"/>
<circle cx="102.12" cy="238.43" r="0.9" fill="#8a9ab2" />
<circle cx="102.12" cy="240.08" r="1.7" fill="url(#gO2)"/>
<circle cx="106.85" cy="225.56" r="1.7" fill="url(#gO2)"/>
<circle cx="106.85" cy="227.21" r="0.9" fill="#8a9ab2" />
<circle cx="106.85" cy="228.86" r="1.7" fill="url(#gO2)"/>
<circle cx="106.85" cy="230.51" r="0.9" fill="#8a9ab2" />
<circle cx="106.85" cy="232.16" r="1.7" fill="url(#gO2)"/>
<circle cx="106.85" cy="233.81" r="0.9" fill="#8a9ab2" />
<circle cx="106.85" cy="235.46" r="1.7" fill="url(#gO2)"/>
<circle cx="106.85" cy="237.11" r="0.9" fill="#8a9ab2" />
<circle cx="106.85" cy="238.76" r="1.7" fill="url(#gO2)"/>
<circle cx="111.59" cy="224.25" r="1.7" fill="url(#gO2)"/>
<circle cx="111.59" cy="225.9" r="0.9" fill="#8a9ab2" />
<circle cx="111.59" cy="227.55" r="1.7" fill="url(#gO2)"/>
<circle cx="111.59" cy="229.2" r="0.9" fill="#8a9ab2" />
<circle cx="111.59" cy="230.85" r="1.7" fill="url(#gO2)"/>
<circle cx="111.59" cy="232.5" r="0.9" fill="#8a9ab2" />
<circle cx="111.59" cy="234.15" r="1.7" fill="url(#gO2)"/>
<circle cx="111.59" cy="235.8" r="0.9" fill="#8a9ab2" />
<circle cx="111.59" cy="237.45" r="1.7" fill="url(#gO2)"/>
<circle cx="116.33" cy="226.23" r="1.7" fill="url(#gO2)"/>
<circle cx="116.33" cy="227.88" r="0.9" fill="#8a9ab2" />
<circle cx="116.33" cy="229.53" r="1.7" fill="url(#gO2)"/>
<circle cx="116.33" cy="231.18" r="0.9" fill="#8a9ab2" />
<circle cx="116.33" cy="232.83" r="1.7" fill="url(#gO2)"/>
<circle cx="116.33" cy="234.48" r="0.9" fill="#8a9ab2" />
<circle cx="116.33" cy="236.13" r="1.7" fill="url(#gO2)"/>
<circle cx="116.33" cy="237.78" r="0.9" fill="#8a9ab2" />
<circle cx="121.06" cy="228.22" r="1.7" fill="url(#gO2)"/>
<circle cx="121.06" cy="229.87" r="0.9" fill="#8a9ab2" />
<circle cx="121.06" cy="231.52" r="1.7" fill="url(#gO2)"/>
<circle cx="121.06" cy="233.17" r="0.9" fill="#8a9ab2" />
<circle cx="121.06" cy="234.82" r="1.7" fill="url(#gO2)"/>
<circle cx="121.06" cy="236.47" r="0.9" fill="#8a9ab2" />
<circle cx="36.73" cy="226.88" r="1.9" fill="url(#gTi2)"/>
<circle cx="41.17" cy="225.62" r="1.9" fill="url(#gTi2)"/>
<circle cx="45.62" cy="224.38" r="1.9" fill="url(#gTi2)"/>
<circle cx="50.08" cy="223.12" r="1.9" fill="url(#gTi2)"/>
<circle cx="54.53" cy="221.88" r="1.9" fill="url(#gTi2)"/>
<circle cx="58.98" cy="220.62" r="1.9" fill="url(#gTi2)"/>
<circle cx="63.42" cy="219.38" r="1.9" fill="url(#gTi2)"/>
<circle cx="67.88" cy="218.12" r="1.9" fill="url(#gTi2)"/>
<circle cx="72.32" cy="216.88" r="1.9" fill="url(#gTi2)"/>
<circle cx="76.78" cy="215.62" r="1.9" fill="url(#gTi2)"/>
<circle cx="81.3" cy="215.65" r="1.9" fill="url(#gTi2)"/>
<circle cx="85.9" cy="216.95" r="1.9" fill="url(#gTi2)"/>
<circle cx="90.5" cy="218.25" r="1.9" fill="url(#gTi2)"/>
<circle cx="95.1" cy="219.55" r="1.9" fill="url(#gTi2)"/>
<circle cx="99.7" cy="220.85" r="1.9" fill="url(#gTi2)"/>
<circle cx="104.3" cy="222.15" r="1.9" fill="url(#gTi2)"/>
<circle cx="108.9" cy="223.45" r="1.9" fill="url(#gTi2)"/>
<circle cx="113.5" cy="224.75" r="1.9" fill="url(#gTi2)"/>
<circle cx="118.1" cy="226.05" r="1.9" fill="url(#gTi2)"/>
<circle cx="122.7" cy="227.35" r="1.9" fill="url(#gTi2)"/>
<circle cx="34" cy="240.65" r="3.2" fill="url(#gTi2)"/>
<circle cx="40.43" cy="242.38" r="3.2" fill="url(#gTi2)"/>
<circle cx="46.86" cy="244.11" r="3.2" fill="url(#gTi2)"/>
<circle cx="53.29" cy="245.84" r="3.2" fill="url(#gTi2)"/>
<circle cx="59.71" cy="247.58" r="3.2" fill="url(#gTi2)"/>
<circle cx="66.14" cy="249.31" r="3.2" fill="url(#gTi2)"/>
<circle cx="72.57" cy="251.04" r="3.2" fill="url(#gTi2)"/>
<circle cx="79" cy="252.78" r="3.2" fill="url(#gTi2)"/>
<circle cx="37.21" cy="239.98" r="1.7" fill="url(#gO2)"/>
<circle cx="43.64" cy="241.38" r="1.7" fill="url(#gO2)"/>
<circle cx="50.07" cy="242.79" r="1.7" fill="url(#gO2)"/>
<circle cx="56.5" cy="244.19" r="1.7" fill="url(#gO2)"/>
<circle cx="62.93" cy="245.59" r="1.7" fill="url(#gO2)"/>
<circle cx="69.36" cy="247" r="1.7" fill="url(#gO2)"/>
<circle cx="75.79" cy="248.4" r="1.7" fill="url(#gO2)"/>
<circle cx="37.21" cy="244.35" r="3.3" fill="url(#gTi2)"/>
<circle cx="43.64" cy="246.7" r="3.3" fill="url(#gTi2)"/>
<circle cx="50.07" cy="249.04" r="3.3" fill="url(#gTi2)"/>
<circle cx="56.5" cy="251.39" r="3.3" fill="url(#gTi2)"/>
<circle cx="62.93" cy="253.74" r="3.3" fill="url(#gTi2)"/>
<circle cx="69.36" cy="256.08" r="3.3" fill="url(#gTi2)"/>
<circle cx="75.79" cy="258.43" r="3.3" fill="url(#gTi2)"/>
<circle cx="34" cy="242.53" r="1.9" fill="url(#gO2)"/>
<circle cx="40.43" cy="244.72" r="1.9" fill="url(#gO2)"/>
<circle cx="46.86" cy="246.91" r="1.9" fill="url(#gO2)"/>
<circle cx="53.29" cy="249.1" r="1.9" fill="url(#gO2)"/>
<circle cx="59.71" cy="251.28" r="1.9" fill="url(#gO2)"/>
<circle cx="66.14" cy="253.47" r="1.9" fill="url(#gO2)"/>
<circle cx="72.57" cy="255.66" r="1.9" fill="url(#gO2)"/>
<circle cx="79" cy="257.85" r="1.9" fill="url(#gO2)"/>
<circle cx="79" cy="252.78" r="3.2" fill="url(#gTi2)"/>
<circle cx="85.64" cy="250.76" r="3.2" fill="url(#gTi2)"/>
<circle cx="92.29" cy="248.74" r="3.2" fill="url(#gTi2)"/>
<circle cx="98.93" cy="246.72" r="3.2" fill="url(#gTi2)"/>
<circle cx="105.57" cy="244.7" r="3.2" fill="url(#gTi2)"/>
<circle cx="112.21" cy="242.68" r="3.2" fill="url(#gTi2)"/>
<circle cx="118.86" cy="240.66" r="3.2" fill="url(#gTi2)"/>
<circle cx="125.5" cy="238.64" r="3.2" fill="url(#gTi2)"/>
<circle cx="82.32" cy="248.23" r="1.7" fill="url(#gO2)"/>
<circle cx="88.96" cy="246.5" r="1.7" fill="url(#gO2)"/>
<circle cx="95.61" cy="244.76" r="1.7" fill="url(#gO2)"/>
<circle cx="102.25" cy="243.03" r="1.7" fill="url(#gO2)"/>
<circle cx="108.89" cy="241.3" r="1.7" fill="url(#gO2)"/>
<circle cx="115.54" cy="239.56" r="1.7" fill="url(#gO2)"/>
<circle cx="122.18" cy="237.83" r="1.7" fill="url(#gO2)"/>
<circle cx="82.32" cy="258.33" r="3.3" fill="url(#gTi2)"/>
<circle cx="88.96" cy="255.78" r="3.3" fill="url(#gTi2)"/>
<circle cx="95.61" cy="253.23" r="3.3" fill="url(#gTi2)"/>
<circle cx="102.25" cy="250.68" r="3.3" fill="url(#gTi2)"/>
<circle cx="108.89" cy="248.13" r="3.3" fill="url(#gTi2)"/>
<circle cx="115.54" cy="245.58" r="3.3" fill="url(#gTi2)"/>
<circle cx="122.18" cy="243.03" r="3.3" fill="url(#gTi2)"/>
<circle cx="79" cy="257.85" r="1.9" fill="url(#gO2)"/>
<circle cx="85.64" cy="255.44" r="1.9" fill="url(#gO2)"/>
<circle cx="92.29" cy="253.02" r="1.9" fill="url(#gO2)"/>
<circle cx="98.93" cy="250.61" r="1.9" fill="url(#gO2)"/>
<circle cx="105.57" cy="248.2" r="1.9" fill="url(#gO2)"/>
<circle cx="112.21" cy="245.79" r="1.9" fill="url(#gO2)"/>
<circle cx="118.86" cy="243.37" r="1.9" fill="url(#gO2)"/>
<circle cx="125.5" cy="240.96" r="1.9" fill="url(#gO2)"/>
<ellipse cx="70" cy="241" rx="2.8" ry="1.5" fill="#222" opacity="0.85"/>
<ellipse cx="90" cy="238" rx="2.8" ry="1.5" fill="#222" opacity="0.85"/>
<ellipse cx="118" cy="237" rx="2.8" ry="1.5" fill="#222" opacity="0.85"/>
<ellipse cx="47" cy="237" rx="2.8" ry="1.5" fill="#222" opacity="0.85"/>
<ellipse cx="55" cy="243" rx="2.8" ry="1.5" fill="#222" opacity="0.85"/>
<circle cx="61" cy="223" r="2.6" fill="url(#gPd)"/>
<circle cx="43.6" cy="232.3" r="2.6" fill="url(#gPd)"/>
<circle cx="67.3" cy="237.2" r="2.6" fill="url(#gPd)"/>
<circle cx="96.4" cy="230.5" r="2.6" fill="url(#gPd)"/>
<circle cx="121.8" cy="233.2" r="2.6" fill="url(#gPd)"/>
<circle cx="78.2" cy="231" r="3.6" fill="url(#gPd)"/>
<circle cx="85.5" cy="231" r="3.6" fill="url(#gPd)"/>
<circle cx="81.8" cy="225.5" r="3.8" fill="url(#gPd)"/>
<circle cx="81.5" cy="220.5" r="3" fill="url(#gPd)"/>
<path d="M25,212.2 Q33,222 45.5,223.6" fill="none" stroke="#111" stroke-width="1.6"/>
<polygon points="50,224.2 44.2,220.8 44.4,226.6" fill="#111"/>
<path d="M101.5,227.5 Q113.5,225 119.5,218" fill="none" stroke="#111" stroke-width="1.6"/>
<polygon points="122.5,214.5 117.3,217.8 121.8,220.3" fill="#111"/>
<polygon points="75.6,183.2 77.2,184.8 76.6,190 79.2,190.6 76.8,207.2 75.6,206" fill="#222"/>
<polygon points="75,183.3 76.4,185.2 75.6,190.2 78.2,190.8 76.1,206.5 74.3,199 73.8,193.6 72.6,193.2 71.4,186.4" fill="#f6c800"/>
<polygon points="75.6,190.2 78.2,190.8 76.1,206.5 74.3,199" fill="#f0a800"/>
<line x1="33.3" y1="188.2" x2="25.85" y2="192.5" stroke="#c8a088" stroke-width="1.3" stroke-linecap="round"/>
<line x1="25.85" y1="192.5" x2="25.85" y2="201.1" stroke="#c8a088" stroke-width="1.3" stroke-linecap="round"/>
<line x1="25.85" y1="201.1" x2="33.3" y2="205.4" stroke="#c8a088" stroke-width="1.3" stroke-linecap="round"/>
<line x1="33.3" y1="205.4" x2="40.75" y2="201.1" stroke="#c8a088" stroke-width="1.3" stroke-linecap="round"/>
<line x1="40.75" y1="201.1" x2="40.75" y2="192.5" stroke="#c8a088" stroke-width="1.3" stroke-linecap="round"/>
<line x1="40.75" y1="192.5" x2="33.3" y2="188.2" stroke="#c8a088" stroke-width="1.3" stroke-linecap="round"/>
<circle cx="33.3" cy="183.7" r="1.1" fill="url(#gHw)"/>
<circle cx="21.96" cy="190.25" r="1.1" fill="url(#gHw)"/>
<circle cx="21.96" cy="203.35" r="1.1" fill="url(#gHw)"/>
<circle cx="33.3" cy="209.9" r="1.1" fill="url(#gHw)"/>
<circle cx="44.64" cy="203.35" r="1.1" fill="url(#gHw)"/>
<circle cx="33.3" cy="188.2" r="2.1" fill="url(#gC2)"/>
<circle cx="25.85" cy="192.5" r="2.1" fill="url(#gC2)"/>
<circle cx="25.85" cy="201.1" r="2.1" fill="url(#gC2)"/>
<circle cx="33.3" cy="205.4" r="2.1" fill="url(#gC2)"/>
<circle cx="40.75" cy="201.1" r="2.1" fill="url(#gC2)"/>
<circle cx="40.75" cy="192.5" r="2.1" fill="url(#gC2)"/>
<line x1="40.75" y1="192.5" x2="49.2" y2="188.6" stroke="#c8a088" stroke-width="1.3" stroke-linecap="round"/>
<line x1="49.2" y1="188.6" x2="47.9" y2="178.5" stroke="#80c8b0" stroke-width="1.3" stroke-linecap="round"/>
<circle cx="49.2" cy="188.6" r="2" fill="url(#gC2)"/>
<circle cx="52.5" cy="191.5" r="1.1" fill="url(#gHw)"/>
<circle cx="46.5" cy="191.5" r="1" fill="url(#gHw)"/>
<circle cx="47.9" cy="178.5" r="2.4" fill="url(#gN)"/>
<circle cx="53.5" cy="177.5" r="1.1" fill="url(#gHw)"/>
<circle cx="44" cy="177" r="1" fill="url(#gHw)"/>
<circle cx="12.6" cy="217.4" r="3.3" fill="url(#gOw)"/>
<circle cx="8.5" cy="211" r="1.2" fill="url(#gHw)"/>
<circle cx="20.5" cy="216.5" r="1.2" fill="url(#gHw)"/>
<circle cx="15" cy="228.2" r="2.6" fill="url(#gC2)"/>
<circle cx="15" cy="240" r="2.6" fill="url(#gN)"/>
<circle cx="15" cy="252" r="1.6" fill="url(#gHw)"/>
<text x="22.5" y="231.3" font-family="'Liberation Sans',sans-serif" font-size="8.6" font-weight="normal" fill="#222" text-anchor="start"  stroke="#222" stroke-width="0.15">C</text>
<text x="22.5" y="243.1" font-family="'Liberation Sans',sans-serif" font-size="8.6" font-weight="normal" fill="#222" text-anchor="start"  stroke="#222" stroke-width="0.15">N</text>
<text x="22.5" y="255.1" font-family="'Liberation Sans',sans-serif" font-size="8.6" font-weight="normal" fill="#222" text-anchor="start"  stroke="#222" stroke-width="0.15">H</text>
<circle cx="134.2" cy="230.2" r="2.6" fill="url(#gPd)"/>
<circle cx="134.2" cy="240.8" r="2.7" fill="url(#gTi2)"/>
<circle cx="134.2" cy="249.6" r="2.6" fill="url(#gO2)"/>
<circle cx="134.2" cy="258.8" r="2.4" fill="url(#gV)"/>
<text x="141.3" y="233.3" font-family="'Liberation Sans',sans-serif" font-size="8.6" font-weight="normal" fill="#222" text-anchor="start"  stroke="#222" stroke-width="0.15">Pd</text>
<text x="141.3" y="243.9" font-family="'Liberation Sans',sans-serif" font-size="8.6" font-weight="normal" fill="#222" text-anchor="start"  stroke="#222" stroke-width="0.15">Ti</text>
<text x="141.3" y="252.7" font-family="'Liberation Sans',sans-serif" font-size="8.6" font-weight="normal" fill="#222" text-anchor="start"  stroke="#222" stroke-width="0.15">O</text>
<text x="141.3" y="262" font-family="'Liberation Sans',sans-serif" font-size="8.6" fill="#222" stroke="#222" stroke-width="0.15">V<tspan font-size="5.5" dy="1.8">O</tspan></text>
<line x1="113.99" y1="197.23" x2="109.3" y2="191.64" stroke="#b088c8" stroke-width="1.9" stroke-linecap="round"/>
<line x1="109.3" y1="191.64" x2="102.11" y2="192.91" stroke="#b088c8" stroke-width="1.9" stroke-linecap="round"/>
<line x1="102.11" y1="192.91" x2="99.61" y2="199.77" stroke="#b088c8" stroke-width="1.9" stroke-linecap="round"/>
<line x1="99.61" y1="199.77" x2="104.3" y2="205.36" stroke="#b088c8" stroke-width="1.9" stroke-linecap="round"/>
<line x1="104.3" y1="205.36" x2="111.49" y2="204.09" stroke="#b088c8" stroke-width="1.9" stroke-linecap="round"/>
<line x1="111.49" y1="204.09" x2="113.99" y2="197.23" stroke="#b088c8" stroke-width="1.9" stroke-linecap="round"/>
<line x1="150.52" y1="206.49" x2="145.27" y2="201.42" stroke="#b088c8" stroke-width="1.9" stroke-linecap="round"/>
<line x1="145.27" y1="201.42" x2="138.25" y2="203.43" stroke="#b088c8" stroke-width="1.9" stroke-linecap="round"/>
<line x1="138.25" y1="203.43" x2="136.48" y2="210.51" stroke="#b088c8" stroke-width="1.9" stroke-linecap="round"/>
<line x1="136.48" y1="210.51" x2="141.73" y2="215.58" stroke="#b088c8" stroke-width="1.9" stroke-linecap="round"/>
<line x1="141.73" y1="215.58" x2="148.75" y2="213.57" stroke="#b088c8" stroke-width="1.9" stroke-linecap="round"/>
<line x1="148.75" y1="213.57" x2="150.52" y2="206.49" stroke="#b088c8" stroke-width="1.9" stroke-linecap="round"/>
<line x1="113.99" y1="197.23" x2="121.2" y2="195.1" stroke="#b88cc8" stroke-width="1.5" stroke-linecap="round"/>
<line x1="121.2" y1="195.1" x2="125.6" y2="201.1" stroke="#b88cc8" stroke-width="1.5" stroke-linecap="round"/>
<line x1="125.6" y1="201.1" x2="132.6" y2="197.9" stroke="#b88cc8" stroke-width="1.5" stroke-linecap="round"/>
<line x1="132.6" y1="197.9" x2="138.25" y2="203.43" stroke="#b88cc8" stroke-width="1.5" stroke-linecap="round"/>
<line x1="102.11" y1="192.91" x2="97.6" y2="188.4" stroke="#c8b0dc" stroke-width="1" stroke-linecap="round"/>
<line x1="109.3" y1="191.64" x2="110.4" y2="185.2" stroke="#c8b0dc" stroke-width="1" stroke-linecap="round"/>
<line x1="99.61" y1="199.77" x2="93.2" y2="201.7" stroke="#c8b0dc" stroke-width="1" stroke-linecap="round"/>
<line x1="104.3" y1="205.36" x2="102.7" y2="211.9" stroke="#c8b0dc" stroke-width="1" stroke-linecap="round"/>
<line x1="111.49" y1="204.09" x2="116.1" y2="208.7" stroke="#c8b0dc" stroke-width="1" stroke-linecap="round"/>
<line x1="145.27" y1="201.42" x2="147.3" y2="194.7" stroke="#c8b0dc" stroke-width="1" stroke-linecap="round"/>
<line x1="150.52" y1="206.49" x2="156.2" y2="205.5" stroke="#c8b0dc" stroke-width="1" stroke-linecap="round"/>
<line x1="148.75" y1="213.57" x2="152.4" y2="218.9" stroke="#c8b0dc" stroke-width="1" stroke-linecap="round"/>
<line x1="141.73" y1="215.58" x2="139.6" y2="222.1" stroke="#c8b0dc" stroke-width="1" stroke-linecap="round"/>
<line x1="136.48" y1="210.51" x2="130.1" y2="211.9" stroke="#c8b0dc" stroke-width="1" stroke-linecap="round"/>
<line x1="121.2" y1="195.1" x2="122.5" y2="189.6" stroke="#c8b0dc" stroke-width="1" stroke-linecap="round"/>
<line x1="132.6" y1="197.9" x2="130.5" y2="192.5" stroke="#c8b0dc" stroke-width="1" stroke-linecap="round"/>
<line x1="132.6" y1="197.9" x2="134.5" y2="192" stroke="#c8b0dc" stroke-width="1" stroke-linecap="round"/>
<circle cx="97.6" cy="188.4" r="1.9" fill="url(#gHp)"/>
<circle cx="110.4" cy="185.2" r="1.9" fill="url(#gHp)"/>
<circle cx="93.2" cy="201.7" r="1.9" fill="url(#gHp)"/>
<circle cx="102.7" cy="211.9" r="1.9" fill="url(#gHp)"/>
<circle cx="116.1" cy="208.7" r="1.9" fill="url(#gHp)"/>
<circle cx="147.3" cy="194.7" r="1.9" fill="url(#gHp)"/>
<circle cx="156.2" cy="205.5" r="1.9" fill="url(#gHp)"/>
<circle cx="152.4" cy="218.9" r="1.9" fill="url(#gHp)"/>
<circle cx="139.6" cy="222.1" r="1.9" fill="url(#gHp)"/>
<circle cx="130.1" cy="211.9" r="1.9" fill="url(#gHp)"/>
<circle cx="122.5" cy="189.6" r="1.9" fill="url(#gHp)"/>
<circle cx="130.5" cy="192.5" r="1.9" fill="url(#gHp)"/>
<circle cx="134.5" cy="192" r="1.9" fill="url(#gHp)"/>
<circle cx="113.99" cy="197.23" r="2.4" fill="url(#gC2)"/>
<circle cx="109.3" cy="191.64" r="2.4" fill="url(#gC2)"/>
<circle cx="102.11" cy="192.91" r="2.4" fill="url(#gC2)"/>
<circle cx="99.61" cy="199.77" r="2.4" fill="url(#gC2)"/>
<circle cx="104.3" cy="205.36" r="2.4" fill="url(#gC2)"/>
<circle cx="111.49" cy="204.09" r="2.4" fill="url(#gC2)"/>
<circle cx="150.52" cy="206.49" r="2.4" fill="url(#gC2)"/>
<circle cx="145.27" cy="201.42" r="2.4" fill="url(#gC2)"/>
<circle cx="138.25" cy="203.43" r="2.4" fill="url(#gC2)"/>
<circle cx="136.48" cy="210.51" r="2.4" fill="url(#gC2)"/>
<circle cx="141.73" cy="215.58" r="2.4" fill="url(#gC2)"/>
<circle cx="148.75" cy="213.57" r="2.4" fill="url(#gC2)"/>
<circle cx="121.2" cy="195.1" r="2.4" fill="url(#gC2)"/>
<circle cx="132.6" cy="197.9" r="2.4" fill="url(#gC2)"/>
<circle cx="125.6" cy="201.1" r="2.6" fill="url(#gN)"/>
<rect x="142.2" y="182.6" width="8.3" height="4.6" rx="2.3" fill="none" stroke="#c8a0d8" stroke-width="1.4"/>
<polygon points="6,331 20.5,327 60,358 22,372" fill="url(#gBeam1)" filter="url(#bl1)"/>
<circle cx="53.6" cy="386.7" r="30.5" fill="url(#gSph)" />
<path d="M107,365.5 L120.2,365.5 Q120.5,388.3 140,388.3 L244.5,388.3 L244.5,378 L255.5,398.4 L244.5,418.5 L244.5,409 L87.5,409 L87.5,388.3 L111,388.3 Q107.5,380 107,365.5 Z" fill="#c6c6c6"/>
<path d="M203.8,366 L215.8,366 Q216,388.3 237,388.3 L206.5,388.3 Q204,380 203.8,366 Z" fill="#c6c6c6"/>
<text x="139.5" y="397.7" font-family="'Liberation Sans',sans-serif" font-size="7.4" font-weight="bold" fill="#e8202a" text-anchor="middle" textLength="53.7" lengthAdjust="spacingAndGlyphs" stroke="#e8202a" stroke-width="0.15">Facet-engineering</text>
<text x="139.4" y="405.4" font-family="'Liberation Sans',sans-serif" font-size="7.4" font-weight="bold" fill="#e8202a" text-anchor="middle" textLength="81.3" lengthAdjust="spacingAndGlyphs" stroke="#e8202a" stroke-width="0.15">(+ selectively loaded linker)</text>
<text x="223" y="400.6" font-family="'Liberation Sans',sans-serif" font-size="7.4" font-weight="bold" fill="#e8202a" text-anchor="middle" textLength="42.9" lengthAdjust="spacingAndGlyphs" stroke="#e8202a" stroke-width="0.15">Single atom Pt</text>
<polygon points="40.56,376.02 35.8,378.93 31.04,376.02 31.04,370.19 35.8,367.27 40.56,370.19" fill="url(#gNP)"/>
<circle cx="33.6" cy="370.9" r="1.43" fill="#5a5a5a" stroke="#3a3a3a" stroke-width="0.3"/>
<circle cx="37.45" cy="370.35" r="1.43" fill="#5a5a5a" stroke="#3a3a3a" stroke-width="0.3"/>
<circle cx="33.05" cy="374.2" r="1.43" fill="#5a5a5a" stroke="#3a3a3a" stroke-width="0.3"/>
<circle cx="36.9" cy="374.2" r="1.43" fill="#5a5a5a" stroke="#3a3a3a" stroke-width="0.3"/>
<circle cx="39.1" cy="372.55" r="1.43" fill="#5a5a5a" stroke="#3a3a3a" stroke-width="0.3"/>
<circle cx="35.25" cy="376.73" r="1.43" fill="#5a5a5a" stroke="#3a3a3a" stroke-width="0.3"/>
<circle cx="38.55" cy="376.18" r="1.43" fill="#5a5a5a" stroke="#3a3a3a" stroke-width="0.3"/>
<polygon points="75.86,372.52 71.1,375.43 66.34,372.52 66.34,366.69 71.1,363.77 75.86,366.69" fill="url(#gNP)"/>
<circle cx="68.9" cy="367.4" r="1.43" fill="#5a5a5a" stroke="#3a3a3a" stroke-width="0.3"/>
<circle cx="72.75" cy="366.85" r="1.43" fill="#5a5a5a" stroke="#3a3a3a" stroke-width="0.3"/>
<circle cx="68.35" cy="370.7" r="1.43" fill="#5a5a5a" stroke="#3a3a3a" stroke-width="0.3"/>
<circle cx="72.2" cy="370.7" r="1.43" fill="#5a5a5a" stroke="#3a3a3a" stroke-width="0.3"/>
<circle cx="74.4" cy="369.05" r="1.43" fill="#5a5a5a" stroke="#3a3a3a" stroke-width="0.3"/>
<circle cx="70.55" cy="373.23" r="1.43" fill="#5a5a5a" stroke="#3a3a3a" stroke-width="0.3"/>
<circle cx="73.85" cy="372.68" r="1.43" fill="#5a5a5a" stroke="#3a3a3a" stroke-width="0.3"/>
<polygon points="65.45,403.08 60.9,405.87 56.35,403.08 56.35,397.52 60.9,394.74 65.45,397.52" fill="url(#gNP)"/>
<circle cx="58.8" cy="398.2" r="1.37" fill="#5a5a5a" stroke="#3a3a3a" stroke-width="0.3"/>
<circle cx="62.48" cy="397.68" r="1.37" fill="#5a5a5a" stroke="#3a3a3a" stroke-width="0.3"/>
<circle cx="58.27" cy="401.35" r="1.37" fill="#5a5a5a" stroke="#3a3a3a" stroke-width="0.3"/>
<circle cx="61.95" cy="401.35" r="1.37" fill="#5a5a5a" stroke="#3a3a3a" stroke-width="0.3"/>
<circle cx="64.05" cy="399.78" r="1.37" fill="#5a5a5a" stroke="#3a3a3a" stroke-width="0.3"/>
<circle cx="60.38" cy="403.76" r="1.37" fill="#5a5a5a" stroke="#3a3a3a" stroke-width="0.3"/>
<circle cx="63.52" cy="403.24" r="1.37" fill="#5a5a5a" stroke="#3a3a3a" stroke-width="0.3"/>
<path d="M44.5,377.5 q2,1 1.5,3 q-0.5,2 1.5,3 q2,1 1,3 q1,1 2.5,0.5" fill="none" stroke="#2a4f9a" stroke-width="0.9"/>
<circle cx="44.2" cy="377.3" r="0.8" fill="#2a4f9a" />
<path d="M58,383 l1.5,-1.5 l-0.5,-1.5 l1.8,-0.7 l-0.5,-1.6 l1.8,-0.6 l-0.3,-1.6 l1.8,-0.5 l0,-1.5 l2,-0.6" fill="none" stroke="#2a4f9a" stroke-width="0.9"/>
<path d="M56.5,398 q4,-3 8,-2" fill="none" stroke="#e8202a" stroke-width="0.8"/>
<text x="41.3" y="375.6" font-family="'Liberation Sans',sans-serif" font-size="8.6" font-weight="bold" fill="#2a4f9a" stroke="#2a4f9a" stroke-width="0.15">e<tspan font-size="5" dy="-3.5">-</tspan></text>
<text x="34" y="398" font-family="'Liberation Sans',sans-serif" font-size="7.6" font-weight="bold" fill="#2a4f9a" stroke="#2a4f9a" stroke-width="0.15">h<tspan font-size="5" dy="-3.2">+</tspan></text>
<text x="50" y="394.5" font-family="'Liberation Sans',sans-serif" font-size="7.6" font-weight="bold" fill="#e8202a" stroke="#e8202a" stroke-width="0.15">h<tspan font-size="5" dy="-3.2">+</tspan></text>
<text x="64" y="392" font-family="'Liberation Sans',sans-serif" font-size="7.6" font-weight="bold" fill="#e8202a" stroke="#e8202a" stroke-width="0.15">e<tspan font-size="5" dy="-3.2">-</tspan></text>
<text x="65.8" y="408.3" font-family="'Liberation Sans',sans-serif" font-size="5" font-weight="normal" fill="#e8202a" text-anchor="middle"  stroke="#e8202a" stroke-width="0.15">recombine</text>
<text x="56.1" y="342.3" font-family="'Liberation Sans',sans-serif" font-size="7.4" font-weight="bold" fill="#2a4f9a" text-anchor="middle" textLength="35.6" lengthAdjust="spacingAndGlyphs" stroke="#2a4f9a" stroke-width="0.15">Benchmark</text>
<text x="56.6" y="350.6" font-family="'Liberation Sans',sans-serif" font-size="7.4" font-weight="bold" fill="#2a4f9a" text-anchor="middle" textLength="29.6" lengthAdjust="spacingAndGlyphs" stroke="#2a4f9a" stroke-width="0.15">Pt<tspan font-size="4.8" dy="1.5">NP</tspan><tspan dy="-1.5">/TiO</tspan><tspan font-size="4.8" dy="1.5">2</tspan></text>
<text x="27.5" y="352.5" font-family="'Liberation Sans',sans-serif" font-size="5.8" font-weight="bold" fill="#222" stroke="#222" stroke-width="0.15">O<tspan font-size="3.8" dy="1.2">2</tspan><tspan font-size="3.8" dy="-3.5">•−</tspan></text>
<text x="10.5" y="375" font-family="'Liberation Sans',sans-serif" font-size="5.8" font-weight="bold" fill="#222" stroke="#222" stroke-width="0.15">O<tspan font-size="3.8" dy="1.2">2</tspan></text>
<text x="7.5" y="398.7" font-family="'Liberation Sans',sans-serif" font-size="5.8" font-weight="bold" fill="#222" text-anchor="start"  stroke="#222" stroke-width="0.15">·OH</text>
<text x="20" y="417" font-family="'Liberation Sans',sans-serif" font-size="5.8" font-weight="bold" fill="#222" stroke="#222" stroke-width="0.15">H<tspan font-size="3.8" dy="1.2">2</tspan><tspan dy="-1.2">O</tspan></text>
<path d="M19,373.5 Q31,375.5 33,366 Q34,361 32.5,357.5" fill="none" stroke="#222" stroke-width="0.8"/>
<polygon points="32,355 30.3,358.6 33.8,358.2" fill="#222"/>
<path d="M33,411 Q36,399 26.5,396.5 Q22,396 18.8,396.8" fill="none" stroke="#222" stroke-width="0.8"/>
<polygon points="16.8,397 20.3,395 20.3,398.8" fill="#222"/>
<text x="86" y="310.2" font-family="'Liberation Sans',sans-serif" font-size="7.6" font-weight="bold" fill="#505050" textLength="84.5" lengthAdjust="spacingAndGlyphs" stroke="#505050" stroke-width="0.15">Pt<tspan font-size="4.8" dy="1.5">NP</tspan><tspan dy="-1.5">/facet-engineered TiO</tspan><tspan font-size="4.8" dy="1.5">2</tspan></text>
<polygon points="85.6,328.2 119,344.3 110.7,354 82.4,334.8" fill="#e0e0e0"/>
<polygon points="82.4,334.8 110.7,354 112,358 82.6,338.5" fill="#7a7a7a"/>
<polygon points="119,344.3 171,337.7 176,343.5 172.2,348.5 110.7,354" fill="#9e9e9e"/>
<polygon points="110.7,354 172.2,348.5 172.2,350.5 112,358" fill="#d2d2d2"/>
<polygon points="171,337.7 176,343.5 172.2,348.5" fill="#e4e4e4"/>
<polygon points="129.08,324.64 126.4,326.29 123.72,324.64 123.72,321.36 126.4,319.71 129.08,321.36" fill="url(#gNP)"/>
<circle cx="125.16" cy="321.76" r="0.81" fill="#5a5a5a" stroke="#3a3a3a" stroke-width="0.3"/>
<circle cx="127.33" cy="321.45" r="0.81" fill="#5a5a5a" stroke="#3a3a3a" stroke-width="0.3"/>
<circle cx="124.85" cy="323.62" r="0.81" fill="#5a5a5a" stroke="#3a3a3a" stroke-width="0.3"/>
<circle cx="127.02" cy="323.62" r="0.81" fill="#5a5a5a" stroke="#3a3a3a" stroke-width="0.3"/>
<circle cx="128.26" cy="322.69" r="0.81" fill="#5a5a5a" stroke="#3a3a3a" stroke-width="0.3"/>
<circle cx="126.09" cy="325.05" r="0.81" fill="#5a5a5a" stroke="#3a3a3a" stroke-width="0.3"/>
<circle cx="127.95" cy="324.74" r="0.81" fill="#5a5a5a" stroke="#3a3a3a" stroke-width="0.3"/>
<polygon points="102.68,339.64 100,341.29 97.32,339.64 97.32,336.36 100,334.71 102.68,336.36" fill="url(#gNP)"/>
<circle cx="98.76" cy="336.76" r="0.81" fill="#5a5a5a" stroke="#3a3a3a" stroke-width="0.3"/>
<circle cx="100.93" cy="336.45" r="0.81" fill="#5a5a5a" stroke="#3a3a3a" stroke-width="0.3"/>
<circle cx="98.45" cy="338.62" r="0.81" fill="#5a5a5a" stroke="#3a3a3a" stroke-width="0.3"/>
<circle cx="100.62" cy="338.62" r="0.81" fill="#5a5a5a" stroke="#3a3a3a" stroke-width="0.3"/>
<circle cx="101.86" cy="337.69" r="0.81" fill="#5a5a5a" stroke="#3a3a3a" stroke-width="0.3"/>
<circle cx="99.69" cy="340.05" r="0.81" fill="#5a5a5a" stroke="#3a3a3a" stroke-width="0.3"/>
<circle cx="101.55" cy="339.74" r="0.81" fill="#5a5a5a" stroke="#3a3a3a" stroke-width="0.3"/>
<polygon points="132.68,347.64 130,349.29 127.32,347.64 127.32,344.36 130,342.71 132.68,344.36" fill="url(#gNP)"/>
<circle cx="128.76" cy="344.76" r="0.81" fill="#5a5a5a" stroke="#3a3a3a" stroke-width="0.3"/>
<circle cx="130.93" cy="344.45" r="0.81" fill="#5a5a5a" stroke="#3a3a3a" stroke-width="0.3"/>
<circle cx="128.45" cy="346.62" r="0.81" fill="#5a5a5a" stroke="#3a3a3a" stroke-width="0.3"/>
<circle cx="130.62" cy="346.62" r="0.81" fill="#5a5a5a" stroke="#3a3a3a" stroke-width="0.3"/>
<circle cx="131.86" cy="345.69" r="0.81" fill="#5a5a5a" stroke="#3a3a3a" stroke-width="0.3"/>
<circle cx="129.69" cy="348.05" r="0.81" fill="#5a5a5a" stroke="#3a3a3a" stroke-width="0.3"/>
<circle cx="131.55" cy="347.74" r="0.81" fill="#5a5a5a" stroke="#3a3a3a" stroke-width="0.3"/>
<circle cx="143.6" cy="322" r="2.2" fill="url(#gDot)" />
<text x="103" y="325.5" font-family="'Liberation Sans',sans-serif" font-size="5" font-weight="normal" fill="#e8202a" text-anchor="middle"  stroke="#e8202a" stroke-width="0.15">recombine</text>
<text x="115.5" y="329.8" font-family="'Liberation Sans',sans-serif" font-size="7.6" font-weight="bold" fill="#e8202a" stroke="#e8202a" stroke-width="0.15">e<tspan font-size="5" dy="-3.2">-</tspan></text>
<text x="124.5" y="334.5" font-family="'Liberation Sans',sans-serif" font-size="7.6" font-weight="bold" fill="#e8202a" stroke="#e8202a" stroke-width="0.15">h<tspan font-size="5" dy="-3.2">+</tspan></text>
<text x="110" y="338.5" font-family="'Liberation Sans',sans-serif" font-size="7.6" font-weight="bold" fill="#2a4f9a" stroke="#2a4f9a" stroke-width="0.15">h<tspan font-size="5" dy="-3.2">+</tspan></text>
<text x="132.5" y="348.5" font-family="'Liberation Sans',sans-serif" font-size="7.6" font-weight="bold" fill="#2a4f9a" stroke="#2a4f9a" stroke-width="0.15">e<tspan font-size="5" dy="-3.2">-</tspan></text>
<text x="142" y="348.5" font-family="'Liberation Sans',sans-serif" font-size="7.6" font-weight="bold" fill="#2a4f9a" stroke="#2a4f9a" stroke-width="0.15">e<tspan font-size="5" dy="-3.2">-</tspan></text>
<path d="M116,333 l1.5,-1.2 l1,1 l1.5,-1.2 l1,1 l1.5,-1.2" fill="none" stroke="#2a4f9a" stroke-width="0.8"/>
<path d="M126.5,337.5 l1,1.5 l1.5,-0.5 l0.5,1.5 l1.5,-0.5 l0.5,1.5 l1.5,-0.3" fill="none" stroke="#2a4f9a" stroke-width="0.8"/>
<path d="M134,333 l1.5,0 l-0.5,1.5 l1.8,0 l-0.5,1.5 l1.8,0 l-0.5,1.5 l1.8,0.3 l0.8,2" fill="none" stroke="#2a4f9a" stroke-width="0.8"/>
<text x="140.3" y="331" font-family="'Liberation Sans',sans-serif" font-size="5.5" font-weight="normal" fill="#2a4f9a" text-anchor="start" textLength="41.4" lengthAdjust="spacingAndGlyphs" stroke="#2a4f9a" stroke-width="0.15">Controlled  movement</text>
<text x="140.3" y="336.4" font-family="'Liberation Sans',sans-serif" font-size="5.5" font-weight="normal" fill="#2a4f9a" text-anchor="start" textLength="32.7" lengthAdjust="spacingAndGlyphs" stroke="#2a4f9a" stroke-width="0.15">of charge carriers</text>
<circle cx="210" cy="335.8" r="26.4" fill="url(#gSph)" />
<text x="230.8" y="309.3" font-family="'Liberation Sans',sans-serif" font-size="7.6" font-weight="bold" fill="#505050" textLength="23.6" lengthAdjust="spacingAndGlyphs" stroke="#505050" stroke-width="0.15">Pt<tspan font-size="4.8" dy="1.5">1</tspan><tspan dy="-1.5">/TiO</tspan><tspan font-size="4.8" dy="1.5">2</tspan></text>
<circle cx="193.6" cy="317.6" r="2.3" fill="url(#gDot)" />
<circle cx="209.9" cy="313.4" r="2.3" fill="url(#gDot)" />
<circle cx="196.2" cy="336.2" r="2.3" fill="url(#gDot)" />
<circle cx="190.7" cy="352.7" r="2.3" fill="url(#gDot)" />
<circle cx="225" cy="349" r="2.3" fill="url(#gDot)" />
<circle cx="207.7" cy="350.3" r="2.3" fill="url(#gDot)" />
<text x="212" y="318.5" font-family="'Liberation Sans',sans-serif" font-size="7.6" font-weight="bold" fill="#2a4f9a" stroke="#2a4f9a" stroke-width="0.15">e<tspan font-size="5" dy="-3.2">-</tspan></text>
<text x="191" y="334" font-family="'Liberation Sans',sans-serif" font-size="7.6" font-weight="bold" fill="#2a4f9a" stroke="#2a4f9a" stroke-width="0.15">e<tspan font-size="5" dy="-3.2">-</tspan></text>
<text x="213.5" y="337.5" font-family="'Liberation Sans',sans-serif" font-size="7.6" font-weight="bold" fill="#2a4f9a" text-anchor="start"  stroke="#2a4f9a" stroke-width="0.15">h</text>
<circle cx="215.5" cy="339.5" r="0.7" fill="#2a4f9a" />
<path d="M211,318 l-1.5,1.5 l1.5,1.5 l-1.5,1.5 l1.5,1.5 l-1.5,1.5 l1.5,1.5 l-1.5,1.5" fill="none" stroke="#2a4f9a" stroke-width="0.8"/>
<path d="M199,331 q1.5,-2 3,0 q1.5,2 3,0 q1.5,-2 3,0 q1,1.5 2,-0.5" fill="none" stroke="#2a4f9a" stroke-width="0.8"/>
<text x="219.3" y="324.6" font-family="'Liberation Sans',sans-serif" font-size="5" font-weight="normal" fill="#2a4f9a" text-anchor="start" textLength="19.4" lengthAdjust="spacingAndGlyphs" stroke="#2a4f9a" stroke-width="0.15">Increased</text>
<text x="219.3" y="330.1" font-family="'Liberation Sans',sans-serif" font-size="5" font-weight="normal" fill="#2a4f9a" text-anchor="start" textLength="31.2" lengthAdjust="spacingAndGlyphs" stroke="#2a4f9a" stroke-width="0.15">cocatalytic sites</text>
<text x="200" y="349" font-family="'Liberation Sans',sans-serif" font-size="7.6" font-weight="bold" fill="#e8202a" stroke="#e8202a" stroke-width="0.15">e<tspan font-size="5" dy="-3.2">-</tspan></text>
<text x="211" y="351.5" font-family="'Liberation Sans',sans-serif" font-size="7.6" font-weight="bold" fill="#e8202a" stroke="#e8202a" stroke-width="0.15">h<tspan font-size="5" dy="-3.2">+</tspan></text>
<text x="210.8" y="357.6" font-family="'Liberation Sans',sans-serif" font-size="5" font-weight="normal" fill="#e8202a" text-anchor="middle" textLength="21.2" lengthAdjust="spacingAndGlyphs" stroke="#e8202a" stroke-width="0.15">recombine</text>
<polygon points="333,335 350,335 340,383 318,385 304,373" fill="url(#gBeam2)" filter="url(#bl1)"/>
<text x="262" y="362.2" font-family="'Liberation Sans',sans-serif" font-size="8.6" font-weight="bold" fill="#e8202a" textLength="93" lengthAdjust="spacingAndGlyphs" stroke="#e8202a" stroke-width="0.15">Pt<tspan font-size="6" dy="2">1</tspan><tspan dy="-2">/facet-engineered TiO</tspan><tspan font-size="6" dy="2">2</tspan></text>
<polygon points="261,383 293,399.5 290,410 257,390" fill="#dedede"/>
<polygon points="257,390 290,410 291,415.5 258,394.5" fill="#a0a0a0"/>
<polygon points="293,399.5 356,391.6 357,393.8 294,401.8" fill="#e4e4e4"/>
<polygon points="294,401.8 357,393.8 357.6,397.8 294.3,407 290,410" fill="#6a6a6a"/>
<polygon points="290,410 294.3,407 357.6,397.8 355.3,401.6 297.4,413.2 291,415.5" fill="#c4c4c4"/>
<polygon points="356,391.6 362.3,397.8 355.3,401.6 357.6,397.8" fill="#dadada"/>
<circle cx="264.6" cy="390.7" r="2.3" fill="url(#gDot)" />
<circle cx="275.3" cy="393.5" r="2.3" fill="url(#gDot)" />
<circle cx="285.4" cy="402.5" r="2.3" fill="url(#gDot)" />
<circle cx="322" cy="400" r="1.2" fill="#f08030" />
<circle cx="328" cy="403" r="1.2" fill="#f08030" />
<circle cx="343" cy="399" r="1.2" fill="#f08030" />
<circle cx="333" cy="404" r="1.2" fill="#f08030" />
<circle cx="320" cy="405" r="1.5" fill="#111" />
<circle cx="336" cy="404.5" r="1.2" fill="#111" />
<text x="267" y="382.5" font-family="'Liberation Sans',sans-serif" font-size="5.8" font-weight="bold" fill="#222" stroke="#222" stroke-width="0.15">H<tspan font-size="3.8" dy="1.2">2</tspan><tspan dy="-1.2">O</tspan></text>
<text x="295.5" y="372.5" font-family="'Liberation Sans',sans-serif" font-size="5.8" font-weight="bold" fill="#222" text-anchor="start"  stroke="#222" stroke-width="0.15">·OH</text>
<path d="M281,381 Q292,394 299.5,377" fill="none" stroke="#222" stroke-width="0.8"/>
<polygon points="300.5,374.2 297.8,377.5 301.3,378.2" fill="#222"/>
<text x="301.5" y="391" font-family="'Liberation Sans',sans-serif" font-size="7.6" font-weight="bold" fill="#2a4f9a" stroke="#2a4f9a" stroke-width="0.15">h<tspan font-size="5" dy="-3.2">+</tspan></text>
<text x="312" y="390" font-family="'Liberation Sans',sans-serif" font-size="7.6" font-weight="bold" fill="#2a4f9a" stroke="#2a4f9a" stroke-width="0.15">h<tspan font-size="5" dy="-3.2">+</tspan></text>
<text x="322" y="382.5" font-family="'Liberation Sans',sans-serif" font-size="7.6" font-weight="bold" fill="#2a4f9a" stroke="#2a4f9a" stroke-width="0.15">h<tspan font-size="5" dy="-3.2">+</tspan></text>
<text x="278.5" y="399.8" font-family="'Liberation Sans',sans-serif" font-size="7.6" font-weight="bold" fill="#2a4f9a" stroke="#2a4f9a" stroke-width="0.15">e<tspan font-size="5" dy="-3.2">-</tspan></text>
<text x="329" y="399.5" font-family="'Liberation Sans',sans-serif" font-size="7.6" font-weight="bold" fill="#2a4f9a" stroke="#2a4f9a" stroke-width="0.15">e<tspan font-size="5" dy="-3.2">-</tspan></text>
<text x="340.5" y="397.5" font-family="'Liberation Sans',sans-serif" font-size="7.6" font-weight="bold" fill="#2a4f9a" stroke="#2a4f9a" stroke-width="0.15">e<tspan font-size="5" dy="-3.2">-</tspan></text>
<path d="M285,396 l1.5,-1.5 l1,1.2 l1.5,-1.5 l1,1.2 l1.5,-1.5 l1,1.2 l1.5,-1.5" fill="none" stroke="#2a4f9a" stroke-width="0.8"/>
<path d="M316,392 l1,1.5 l1.5,-0.5 l0.5,1.5 l1.5,-0.5 l0.5,1.5 l1.5,-0.3 l0.5,1.5" fill="none" stroke="#2a4f9a" stroke-width="0.8"/>
<path d="M325,385.5 l2,0 l-1,1.5 l2.2,0 l-1,1.5 l2.2,0 l-1,1.5 l2.2,0.5 l1,2.5" fill="none" stroke="#2a4f9a" stroke-width="0.8"/>
<text x="341.6" y="381.8" font-family="'Liberation Sans',sans-serif" font-size="5.8" font-weight="bold" fill="#2a4f9a" text-anchor="start" textLength="18" lengthAdjust="spacingAndGlyphs" stroke="#2a4f9a" stroke-width="0.15">REDOX</text>
<text x="341.6" y="388.5" font-family="'Liberation Sans',sans-serif" font-size="5.8" font-weight="bold" fill="#2a4f9a" text-anchor="start" textLength="37" lengthAdjust="spacingAndGlyphs" stroke="#2a4f9a" stroke-width="0.15">site separation</text>
<text x="300" y="407.5" font-family="'Liberation Sans',sans-serif" font-size="5.8" font-weight="bold" fill="#222" stroke="#222" stroke-width="0.15">Ti-<tspan fill="#e8e020">H</tspan><tspan font-size="3.8" dy="-2.5" fill="#e8e020">δ−</tspan></text>
<text x="322" y="413" font-family="'Liberation Sans',sans-serif" font-size="5.8" font-weight="bold" fill="#222" stroke="#222" stroke-width="0.15">Pt-<tspan fill="#f08030">H</tspan><tspan font-size="3.8" dy="-2.5" fill="#f08030">δ+</tspan></text>
<text x="353" y="413" font-family="'Liberation Sans',sans-serif" font-size="5.5" font-weight="bold" fill="#222" stroke="#222" stroke-width="0.15">H<tspan font-size="3.8" dy="-2.5">+</tspan></text>
<path d="M352,409 Q350,401 340,400" fill="none" stroke="#222" stroke-width="0.8"/>
<text x="318.5" y="420" font-family="'Liberation Sans',sans-serif" font-size="5.8" font-weight="bold" fill="#f08030" text-anchor="middle"  stroke="#f08030" stroke-width="0.15">Hydrogenation</text>
</svg></body></html>
